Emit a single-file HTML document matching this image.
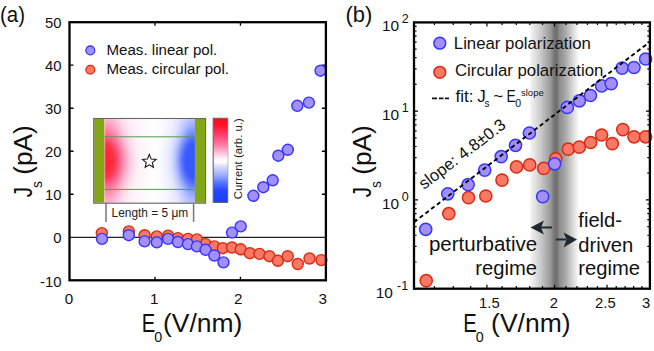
<!DOCTYPE html><html><head><meta charset="utf-8"><style>html,body{margin:0;padding:0;background:#fff;width:654px;height:351px;overflow:hidden}svg{display:block}</style></head><body>
<svg width="654" height="351" viewBox="0 0 654 351" style="font-family:'Liberation Sans',sans-serif">
<defs>
<clipPath id="clipA"><rect x="69.5" y="22.2" width="256.4" height="258.1"/></clipPath>
<clipPath id="clipB"><rect x="414.0" y="22.4" width="235.9" height="266.3"/></clipPath>
<clipPath id="clipHM"><rect x="104.2" y="118.5" width="91.2" height="84.7"/></clipPath>
<filter id="hblur" x="-5%" y="-5%" width="110%" height="110%"><feGaussianBlur stdDeviation="1.2"/></filter>
<filter id="blur" x="-50%" y="-50%" width="200%" height="200%"><feGaussianBlur stdDeviation="7"/></filter>
<filter id="blur2" x="-50%" y="-50%" width="200%" height="200%"><feGaussianBlur stdDeviation="12"/></filter>
<linearGradient id="cbar" x1="0" y1="0" x2="0" y2="1"><stop offset="0" stop-color="#ff0a20"/><stop offset="0.08" stop-color="#ff1028"/><stop offset="0.2" stop-color="#ff4070"/><stop offset="0.32" stop-color="#ff80a8"/><stop offset="0.42" stop-color="#ffc8e0"/><stop offset="0.48" stop-color="#fff4f8"/><stop offset="0.52" stop-color="#ffffff"/><stop offset="0.56" stop-color="#e0e0ff"/><stop offset="0.67" stop-color="#a0b0ff"/><stop offset="0.75" stop-color="#6080ff"/><stop offset="0.85" stop-color="#2848ff"/><stop offset="1" stop-color="#1a3cff"/></linearGradient>
<linearGradient id="band" x1="0" y1="0" x2="1" y2="0"><stop offset="0.0000" stop-color="#ffffff"/><stop offset="0.0288" stop-color="#fefefe"/><stop offset="0.0577" stop-color="#f2f2f2"/><stop offset="0.1538" stop-color="#dedede"/><stop offset="0.2500" stop-color="#c8c8c8"/><stop offset="0.3462" stop-color="#b0b0b0"/><stop offset="0.4423" stop-color="#969696"/><stop offset="0.4904" stop-color="#7c7c7c"/><stop offset="0.5346" stop-color="#6e6e6e"/><stop offset="0.5731" stop-color="#787878"/><stop offset="0.6077" stop-color="#8e8e8e"/><stop offset="0.6731" stop-color="#9c9c9c"/><stop offset="0.7500" stop-color="#b2b2b2"/><stop offset="0.8308" stop-color="#cecece"/><stop offset="0.9308" stop-color="#eeeeee"/><stop offset="0.9731" stop-color="#fcfcfc"/><stop offset="1.0000" stop-color="#ffffff"/></linearGradient>
</defs>
<line x1="69.5" y1="237.28" x2="325.9" y2="237.28" stroke="#222" stroke-width="1.3"/>
<path d="M69.5 194.27h4M325.9 194.27h-4M69.5 151.25h4M325.9 151.25h-4M69.5 108.23h4M325.9 108.23h-4M69.5 65.22h4M325.9 65.22h-4M154.97 280.3v-3.5M154.97 22.2v3.5M240.43 280.3v-3.5M240.43 22.2v3.5" stroke="#000" stroke-width="1.3" fill="none"/>
<text x="61.5" y="28.40" font-size="14.8" text-anchor="end" fill="#111">50</text>
<text x="61.5" y="71.42" font-size="14.8" text-anchor="end" fill="#111">40</text>
<text x="61.5" y="114.43" font-size="14.8" text-anchor="end" fill="#111">30</text>
<text x="61.5" y="157.45" font-size="14.8" text-anchor="end" fill="#111">20</text>
<text x="61.5" y="200.47" font-size="14.8" text-anchor="end" fill="#111">10</text>
<text x="61.5" y="243.48" font-size="14.8" text-anchor="end" fill="#111">0</text>
<text x="61.5" y="286.50" font-size="14.8" text-anchor="end" fill="#111">-10</text>
<text x="69.10" y="303.8" font-size="15.2" text-anchor="middle" fill="#111">0</text>
<text x="154.20" y="303.8" font-size="15.2" text-anchor="middle" fill="#111">1</text>
<text x="238.30" y="303.8" font-size="15.2" text-anchor="middle" fill="#111">2</text>
<text x="322.80" y="303.8" font-size="15.2" text-anchor="middle" fill="#111">3</text>
<text transform="translate(0 22.2) scale(0.95 1)" font-size="21.5" fill="#111">(a)</text>
<text transform="translate(141.7 332.3) scale(0.78 1)" font-size="26" fill="#111">E</text>
<text x="154.3" y="341.7" font-size="14.3" fill="#111">0</text>
<text x="162.9" y="332.3" font-size="26.5" fill="#111">(V/nm)</text>
<g transform="translate(32.2 197.0) rotate(-90)"><text transform="translate(-0.3 0) scale(0.8 1)" font-size="25.5" fill="#111">J</text><text x="9.0" y="9.8" font-size="14" fill="#111">s</text><text x="22.2" y="0" font-size="26.2" fill="#111">(pA)</text></g>
<circle cx="90.3" cy="50.4" r="4.4" fill="#a48ef8" stroke="#3438ff" stroke-width="1.3"/>
<circle cx="90.3" cy="69.7" r="4.4" fill="#fa7866" stroke="#dc2a12" stroke-width="1.3"/>
<text x="106.5" y="54.6" font-size="15.1" fill="#111">Meas. linear pol.</text>
<text x="106.5" y="73.9" font-size="15.1" fill="#111">Meas. circular pol.</text>
<rect x="93.7" y="118.5" width="111.9" height="84.7" fill="#fff"/>
<g clip-path="url(#clipHM)" filter="url(#hblur)"><rect x="104.2" y="118.5" width="2.1" height="2.1" fill="#ff9ebf"/><rect x="106.2" y="118.5" width="2.1" height="2.1" fill="#ff9ec0"/><rect x="108.2" y="118.5" width="2.1" height="2.1" fill="#ffa2c2"/><rect x="110.2" y="118.5" width="2.1" height="2.1" fill="#ffa8c7"/><rect x="112.2" y="118.5" width="2.1" height="2.1" fill="#ffb0cd"/><rect x="114.2" y="118.5" width="2.1" height="2.1" fill="#ffb9d4"/><rect x="116.2" y="118.5" width="2.1" height="2.1" fill="#ffc2dc"/><rect x="118.2" y="118.5" width="2.1" height="2.1" fill="#ffcbe2"/><rect x="120.2" y="118.5" width="2.1" height="2.1" fill="#ffd3e6"/><rect x="122.2" y="118.5" width="2.1" height="2.1" fill="#ffdaea"/><rect x="124.2" y="118.5" width="2.1" height="2.1" fill="#ffe1ee"/><rect x="126.2" y="118.5" width="2.1" height="2.1" fill="#ffe7f1"/><rect x="128.2" y="118.5" width="2.1" height="2.1" fill="#ffecf4"/><rect x="130.2" y="118.5" width="2.1" height="2.1" fill="#fff0f6"/><rect x="132.2" y="118.5" width="2.1" height="2.1" fill="#fff2f7"/><rect x="134.2" y="118.5" width="2.1" height="2.1" fill="#fff3f8"/><rect x="136.2" y="118.5" width="2.1" height="2.1" fill="#fff4f9"/><rect x="138.2" y="118.5" width="2.1" height="2.1" fill="#fff6f9"/><rect x="140.2" y="118.5" width="2.1" height="2.1" fill="#fff7fa"/><rect x="142.2" y="118.5" width="2.1" height="2.1" fill="#fff8fb"/><rect x="144.2" y="118.5" width="2.1" height="2.1" fill="#fff9fc"/><rect x="146.2" y="118.5" width="2.1" height="2.1" fill="#fffafc"/><rect x="148.2" y="118.5" width="2.1" height="2.1" fill="#fffcfd"/><rect x="150.2" y="118.5" width="2.1" height="2.1" fill="#fffdfe"/><rect x="152.2" y="118.5" width="2.1" height="2.1" fill="#fffefe"/><rect x="156.2" y="118.5" width="2.1" height="2.1" fill="#fdfdff"/><rect x="158.2" y="118.5" width="2.1" height="2.1" fill="#fcfcff"/><rect x="160.2" y="118.5" width="2.1" height="2.1" fill="#fafaff"/><rect x="162.2" y="118.5" width="2.1" height="2.1" fill="#f8f8ff"/><rect x="164.2" y="118.5" width="2.1" height="2.1" fill="#f6f6ff"/><rect x="166.2" y="118.5" width="2.1" height="2.1" fill="#f4f4ff"/><rect x="168.2" y="118.5" width="2.1" height="2.1" fill="#f1f1ff"/><rect x="170.2" y="118.5" width="2.1" height="2.1" fill="#eeeeff"/><rect x="172.2" y="118.5" width="2.1" height="2.1" fill="#ebebff"/><rect x="174.2" y="118.5" width="2.1" height="2.1" fill="#e7e7ff"/><rect x="176.2" y="118.5" width="2.1" height="2.1" fill="#e3e3ff"/><rect x="178.2" y="118.5" width="2.1" height="2.1" fill="#dbdcff"/><rect x="180.2" y="118.5" width="2.1" height="2.1" fill="#d1d5ff"/><rect x="182.2" y="118.5" width="2.1" height="2.1" fill="#c6cdff"/><rect x="184.2" y="118.5" width="2.1" height="2.1" fill="#bcc5ff"/><rect x="186.2" y="118.5" width="2.1" height="2.1" fill="#b2beff"/><rect x="188.2" y="118.5" width="2.1" height="2.1" fill="#abb8ff"/><rect x="190.2" y="118.5" width="2.1" height="2.1" fill="#a5b4ff"/><rect x="192.2" y="118.5" width="2.1" height="2.1" fill="#a3b2ff"/><rect x="194.2" y="118.5" width="2.1" height="2.1" fill="#a4b3ff"/><rect x="104.2" y="120.5" width="2.1" height="2.1" fill="#ff97ba"/><rect x="106.2" y="120.5" width="2.1" height="2.1" fill="#ff98ba"/><rect x="108.2" y="120.5" width="2.1" height="2.1" fill="#ff9cbd"/><rect x="110.2" y="120.5" width="2.1" height="2.1" fill="#ffa2c2"/><rect x="112.2" y="120.5" width="2.1" height="2.1" fill="#ffaac9"/><rect x="114.2" y="120.5" width="2.1" height="2.1" fill="#ffb4d0"/><rect x="116.2" y="120.5" width="2.1" height="2.1" fill="#ffbed8"/><rect x="118.2" y="120.5" width="2.1" height="2.1" fill="#ffc8e0"/><rect x="120.2" y="120.5" width="2.1" height="2.1" fill="#ffd1e5"/><rect x="122.2" y="120.5" width="2.1" height="2.1" fill="#ffd8e9"/><rect x="124.2" y="120.5" width="2.1" height="2.1" fill="#ffdfed"/><rect x="126.2" y="120.5" width="2.1" height="2.1" fill="#ffe5f0"/><rect x="128.2" y="120.5" width="2.1" height="2.1" fill="#ffebf3"/><rect x="130.2" y="120.5" width="2.1" height="2.1" fill="#ffeff6"/><rect x="132.2" y="120.5" width="2.1" height="2.1" fill="#fff1f7"/><rect x="134.2" y="120.5" width="2.1" height="2.1" fill="#fff3f8"/><rect x="136.2" y="120.5" width="2.1" height="2.1" fill="#fff4f9"/><rect x="138.2" y="120.5" width="2.1" height="2.1" fill="#fff6f9"/><rect x="140.2" y="120.5" width="2.1" height="2.1" fill="#fff7fa"/><rect x="142.2" y="120.5" width="2.1" height="2.1" fill="#fff8fb"/><rect x="144.2" y="120.5" width="2.1" height="2.1" fill="#fff9fb"/><rect x="146.2" y="120.5" width="2.1" height="2.1" fill="#fffafc"/><rect x="148.2" y="120.5" width="2.1" height="2.1" fill="#fffbfd"/><rect x="150.2" y="120.5" width="2.1" height="2.1" fill="#fffdfe"/><rect x="152.2" y="120.5" width="2.1" height="2.1" fill="#fffefe"/><rect x="156.2" y="120.5" width="2.1" height="2.1" fill="#fdfdff"/><rect x="158.2" y="120.5" width="2.1" height="2.1" fill="#fcfcff"/><rect x="160.2" y="120.5" width="2.1" height="2.1" fill="#fafaff"/><rect x="162.2" y="120.5" width="2.1" height="2.1" fill="#f8f8ff"/><rect x="164.2" y="120.5" width="2.1" height="2.1" fill="#f6f6ff"/><rect x="166.2" y="120.5" width="2.1" height="2.1" fill="#f4f4ff"/><rect x="168.2" y="120.5" width="2.1" height="2.1" fill="#f1f1ff"/><rect x="170.2" y="120.5" width="2.1" height="2.1" fill="#eeeeff"/><rect x="172.2" y="120.5" width="2.1" height="2.1" fill="#eaeaff"/><rect x="174.2" y="120.5" width="2.1" height="2.1" fill="#e6e6ff"/><rect x="176.2" y="120.5" width="2.1" height="2.1" fill="#e2e2ff"/><rect x="178.2" y="120.5" width="2.1" height="2.1" fill="#d9dbff"/><rect x="180.2" y="120.5" width="2.1" height="2.1" fill="#ced3ff"/><rect x="182.2" y="120.5" width="2.1" height="2.1" fill="#c3caff"/><rect x="184.2" y="120.5" width="2.1" height="2.1" fill="#b8c2ff"/><rect x="186.2" y="120.5" width="2.1" height="2.1" fill="#aebaff"/><rect x="188.2" y="120.5" width="2.1" height="2.1" fill="#a6b4ff"/><rect x="190.2" y="120.5" width="2.1" height="2.1" fill="#a0b0ff"/><rect x="192.2" y="120.5" width="2.1" height="2.1" fill="#9daeff"/><rect x="194.2" y="120.5" width="2.1" height="2.1" fill="#9fafff"/><rect x="104.2" y="122.5" width="2.1" height="2.1" fill="#ff8eb3"/><rect x="106.2" y="122.5" width="2.1" height="2.1" fill="#ff8fb4"/><rect x="108.2" y="122.5" width="2.1" height="2.1" fill="#ff94b7"/><rect x="110.2" y="122.5" width="2.1" height="2.1" fill="#ff9bbd"/><rect x="112.2" y="122.5" width="2.1" height="2.1" fill="#ffa4c4"/><rect x="114.2" y="122.5" width="2.1" height="2.1" fill="#ffaecc"/><rect x="116.2" y="122.5" width="2.1" height="2.1" fill="#ffb9d4"/><rect x="118.2" y="122.5" width="2.1" height="2.1" fill="#ffc4dd"/><rect x="120.2" y="122.5" width="2.1" height="2.1" fill="#ffcee3"/><rect x="122.2" y="122.5" width="2.1" height="2.1" fill="#ffd6e8"/><rect x="124.2" y="122.5" width="2.1" height="2.1" fill="#ffddec"/><rect x="126.2" y="122.5" width="2.1" height="2.1" fill="#ffe4ef"/><rect x="128.2" y="122.5" width="2.1" height="2.1" fill="#ffe9f2"/><rect x="130.2" y="122.5" width="2.1" height="2.1" fill="#ffeef5"/><rect x="132.2" y="122.5" width="2.1" height="2.1" fill="#fff1f7"/><rect x="134.2" y="122.5" width="2.1" height="2.1" fill="#fff3f8"/><rect x="136.2" y="122.5" width="2.1" height="2.1" fill="#fff4f8"/><rect x="138.2" y="122.5" width="2.1" height="2.1" fill="#fff5f9"/><rect x="140.2" y="122.5" width="2.1" height="2.1" fill="#fff7fa"/><rect x="142.2" y="122.5" width="2.1" height="2.1" fill="#fff8fb"/><rect x="144.2" y="122.5" width="2.1" height="2.1" fill="#fff9fb"/><rect x="146.2" y="122.5" width="2.1" height="2.1" fill="#fffafc"/><rect x="148.2" y="122.5" width="2.1" height="2.1" fill="#fffbfd"/><rect x="150.2" y="122.5" width="2.1" height="2.1" fill="#fffdfe"/><rect x="152.2" y="122.5" width="2.1" height="2.1" fill="#fffefe"/><rect x="156.2" y="122.5" width="2.1" height="2.1" fill="#fdfdff"/><rect x="158.2" y="122.5" width="2.1" height="2.1" fill="#fcfcff"/><rect x="160.2" y="122.5" width="2.1" height="2.1" fill="#fafaff"/><rect x="162.2" y="122.5" width="2.1" height="2.1" fill="#f8f8ff"/><rect x="164.2" y="122.5" width="2.1" height="2.1" fill="#f6f6ff"/><rect x="166.2" y="122.5" width="2.1" height="2.1" fill="#f3f3ff"/><rect x="168.2" y="122.5" width="2.1" height="2.1" fill="#f1f1ff"/><rect x="170.2" y="122.5" width="2.1" height="2.1" fill="#ededff"/><rect x="172.2" y="122.5" width="2.1" height="2.1" fill="#eaeaff"/><rect x="174.2" y="122.5" width="2.1" height="2.1" fill="#e5e5ff"/><rect x="176.2" y="122.5" width="2.1" height="2.1" fill="#e0e0ff"/><rect x="178.2" y="122.5" width="2.1" height="2.1" fill="#d6d9ff"/><rect x="180.2" y="122.5" width="2.1" height="2.1" fill="#cbd0ff"/><rect x="182.2" y="122.5" width="2.1" height="2.1" fill="#bfc7ff"/><rect x="184.2" y="122.5" width="2.1" height="2.1" fill="#b3beff"/><rect x="186.2" y="122.5" width="2.1" height="2.1" fill="#a8b6ff"/><rect x="188.2" y="122.5" width="2.1" height="2.1" fill="#9fafff"/><rect x="190.2" y="122.5" width="2.1" height="2.1" fill="#98aaff"/><rect x="192.2" y="122.5" width="2.1" height="2.1" fill="#95a8ff"/><rect x="194.2" y="122.5" width="2.1" height="2.1" fill="#96a9ff"/><rect x="104.2" y="124.5" width="2.1" height="2.1" fill="#ff84ab"/><rect x="106.2" y="124.5" width="2.1" height="2.1" fill="#ff86ac"/><rect x="108.2" y="124.5" width="2.1" height="2.1" fill="#ff8ab0"/><rect x="110.2" y="124.5" width="2.1" height="2.1" fill="#ff92b6"/><rect x="112.2" y="124.5" width="2.1" height="2.1" fill="#ff9cbe"/><rect x="114.2" y="124.5" width="2.1" height="2.1" fill="#ffa7c6"/><rect x="116.2" y="124.5" width="2.1" height="2.1" fill="#ffb3d0"/><rect x="118.2" y="124.5" width="2.1" height="2.1" fill="#ffbfd9"/><rect x="120.2" y="124.5" width="2.1" height="2.1" fill="#ffcae1"/><rect x="122.2" y="124.5" width="2.1" height="2.1" fill="#ffd3e6"/><rect x="124.2" y="124.5" width="2.1" height="2.1" fill="#ffdbea"/><rect x="126.2" y="124.5" width="2.1" height="2.1" fill="#ffe2ee"/><rect x="128.2" y="124.5" width="2.1" height="2.1" fill="#ffe8f2"/><rect x="130.2" y="124.5" width="2.1" height="2.1" fill="#ffedf4"/><rect x="132.2" y="124.5" width="2.1" height="2.1" fill="#fff1f6"/><rect x="134.2" y="124.5" width="2.1" height="2.1" fill="#fff2f7"/><rect x="136.2" y="124.5" width="2.1" height="2.1" fill="#fff4f8"/><rect x="138.2" y="124.5" width="2.1" height="2.1" fill="#fff5f9"/><rect x="140.2" y="124.5" width="2.1" height="2.1" fill="#fff6fa"/><rect x="142.2" y="124.5" width="2.1" height="2.1" fill="#fff8fb"/><rect x="144.2" y="124.5" width="2.1" height="2.1" fill="#fff9fb"/><rect x="146.2" y="124.5" width="2.1" height="2.1" fill="#fffafc"/><rect x="148.2" y="124.5" width="2.1" height="2.1" fill="#fffbfd"/><rect x="150.2" y="124.5" width="2.1" height="2.1" fill="#fffdfe"/><rect x="152.2" y="124.5" width="2.1" height="2.1" fill="#fffefe"/><rect x="156.2" y="124.5" width="2.1" height="2.1" fill="#fdfdff"/><rect x="158.2" y="124.5" width="2.1" height="2.1" fill="#fcfcff"/><rect x="160.2" y="124.5" width="2.1" height="2.1" fill="#fafaff"/><rect x="162.2" y="124.5" width="2.1" height="2.1" fill="#f8f8ff"/><rect x="164.2" y="124.5" width="2.1" height="2.1" fill="#f5f5ff"/><rect x="166.2" y="124.5" width="2.1" height="2.1" fill="#f3f3ff"/><rect x="168.2" y="124.5" width="2.1" height="2.1" fill="#f0f0ff"/><rect x="170.2" y="124.5" width="2.1" height="2.1" fill="#ededff"/><rect x="172.2" y="124.5" width="2.1" height="2.1" fill="#e9e9ff"/><rect x="174.2" y="124.5" width="2.1" height="2.1" fill="#e4e4ff"/><rect x="176.2" y="124.5" width="2.1" height="2.1" fill="#dedfff"/><rect x="178.2" y="124.5" width="2.1" height="2.1" fill="#d3d6ff"/><rect x="180.2" y="124.5" width="2.1" height="2.1" fill="#c7cdff"/><rect x="182.2" y="124.5" width="2.1" height="2.1" fill="#bac3ff"/><rect x="184.2" y="124.5" width="2.1" height="2.1" fill="#adbaff"/><rect x="186.2" y="124.5" width="2.1" height="2.1" fill="#a2b1ff"/><rect x="188.2" y="124.5" width="2.1" height="2.1" fill="#96a9ff"/><rect x="190.2" y="124.5" width="2.1" height="2.1" fill="#8ea3ff"/><rect x="192.2" y="124.5" width="2.1" height="2.1" fill="#8ba0ff"/><rect x="194.2" y="124.5" width="2.1" height="2.1" fill="#8da1ff"/><rect x="104.2" y="126.5" width="2.1" height="2.1" fill="#ff7ba3"/><rect x="106.2" y="126.5" width="2.1" height="2.1" fill="#ff7ca4"/><rect x="108.2" y="126.5" width="2.1" height="2.1" fill="#ff80a8"/><rect x="110.2" y="126.5" width="2.1" height="2.1" fill="#ff88ae"/><rect x="112.2" y="126.5" width="2.1" height="2.1" fill="#ff93b6"/><rect x="114.2" y="126.5" width="2.1" height="2.1" fill="#ff9fc0"/><rect x="116.2" y="126.5" width="2.1" height="2.1" fill="#ffacca"/><rect x="118.2" y="126.5" width="2.1" height="2.1" fill="#ffb9d4"/><rect x="120.2" y="126.5" width="2.1" height="2.1" fill="#ffc5de"/><rect x="122.2" y="126.5" width="2.1" height="2.1" fill="#ffcfe4"/><rect x="124.2" y="126.5" width="2.1" height="2.1" fill="#ffd8e9"/><rect x="126.2" y="126.5" width="2.1" height="2.1" fill="#ffe0ed"/><rect x="128.2" y="126.5" width="2.1" height="2.1" fill="#ffe6f1"/><rect x="130.2" y="126.5" width="2.1" height="2.1" fill="#ffecf4"/><rect x="132.2" y="126.5" width="2.1" height="2.1" fill="#fff0f6"/><rect x="134.2" y="126.5" width="2.1" height="2.1" fill="#fff2f7"/><rect x="136.2" y="126.5" width="2.1" height="2.1" fill="#fff3f8"/><rect x="138.2" y="126.5" width="2.1" height="2.1" fill="#fff5f9"/><rect x="140.2" y="126.5" width="2.1" height="2.1" fill="#fff6fa"/><rect x="142.2" y="126.5" width="2.1" height="2.1" fill="#fff8fb"/><rect x="144.2" y="126.5" width="2.1" height="2.1" fill="#fff9fb"/><rect x="146.2" y="126.5" width="2.1" height="2.1" fill="#fffafc"/><rect x="148.2" y="126.5" width="2.1" height="2.1" fill="#fffbfd"/><rect x="150.2" y="126.5" width="2.1" height="2.1" fill="#fffdfe"/><rect x="152.2" y="126.5" width="2.1" height="2.1" fill="#fffefe"/><rect x="156.2" y="126.5" width="2.1" height="2.1" fill="#fdfdff"/><rect x="158.2" y="126.5" width="2.1" height="2.1" fill="#fbfbff"/><rect x="160.2" y="126.5" width="2.1" height="2.1" fill="#fafaff"/><rect x="162.2" y="126.5" width="2.1" height="2.1" fill="#f7f7ff"/><rect x="164.2" y="126.5" width="2.1" height="2.1" fill="#f5f5ff"/><rect x="166.2" y="126.5" width="2.1" height="2.1" fill="#f3f3ff"/><rect x="168.2" y="126.5" width="2.1" height="2.1" fill="#f0f0ff"/><rect x="170.2" y="126.5" width="2.1" height="2.1" fill="#ececff"/><rect x="172.2" y="126.5" width="2.1" height="2.1" fill="#e8e8ff"/><rect x="174.2" y="126.5" width="2.1" height="2.1" fill="#e3e3ff"/><rect x="176.2" y="126.5" width="2.1" height="2.1" fill="#dbdcff"/><rect x="178.2" y="126.5" width="2.1" height="2.1" fill="#cfd3ff"/><rect x="180.2" y="126.5" width="2.1" height="2.1" fill="#c2c9ff"/><rect x="182.2" y="126.5" width="2.1" height="2.1" fill="#b4bfff"/><rect x="184.2" y="126.5" width="2.1" height="2.1" fill="#a6b5ff"/><rect x="186.2" y="126.5" width="2.1" height="2.1" fill="#99aaff"/><rect x="188.2" y="126.5" width="2.1" height="2.1" fill="#8ca1ff"/><rect x="190.2" y="126.5" width="2.1" height="2.1" fill="#839aff"/><rect x="192.2" y="126.5" width="2.1" height="2.1" fill="#7f98ff"/><rect x="194.2" y="126.5" width="2.1" height="2.1" fill="#8199ff"/><rect x="104.2" y="128.5" width="2.1" height="2.1" fill="#ff719b"/><rect x="106.2" y="128.5" width="2.1" height="2.1" fill="#ff729c"/><rect x="108.2" y="128.5" width="2.1" height="2.1" fill="#ff77a0"/><rect x="110.2" y="128.5" width="2.1" height="2.1" fill="#ff7da5"/><rect x="112.2" y="128.5" width="2.1" height="2.1" fill="#ff88ae"/><rect x="114.2" y="128.5" width="2.1" height="2.1" fill="#ff95b9"/><rect x="116.2" y="128.5" width="2.1" height="2.1" fill="#ffa4c4"/><rect x="118.2" y="128.5" width="2.1" height="2.1" fill="#ffb2cf"/><rect x="120.2" y="128.5" width="2.1" height="2.1" fill="#ffc0d9"/><rect x="122.2" y="128.5" width="2.1" height="2.1" fill="#ffcbe2"/><rect x="124.2" y="128.5" width="2.1" height="2.1" fill="#ffd5e7"/><rect x="126.2" y="128.5" width="2.1" height="2.1" fill="#ffddec"/><rect x="128.2" y="128.5" width="2.1" height="2.1" fill="#ffe4ef"/><rect x="130.2" y="128.5" width="2.1" height="2.1" fill="#ffeaf3"/><rect x="132.2" y="128.5" width="2.1" height="2.1" fill="#ffeff6"/><rect x="134.2" y="128.5" width="2.1" height="2.1" fill="#fff1f7"/><rect x="136.2" y="128.5" width="2.1" height="2.1" fill="#fff3f8"/><rect x="138.2" y="128.5" width="2.1" height="2.1" fill="#fff5f9"/><rect x="140.2" y="128.5" width="2.1" height="2.1" fill="#fff6fa"/><rect x="142.2" y="128.5" width="2.1" height="2.1" fill="#fff7fa"/><rect x="144.2" y="128.5" width="2.1" height="2.1" fill="#fff9fb"/><rect x="146.2" y="128.5" width="2.1" height="2.1" fill="#fffafc"/><rect x="148.2" y="128.5" width="2.1" height="2.1" fill="#fffbfd"/><rect x="150.2" y="128.5" width="2.1" height="2.1" fill="#fffcfd"/><rect x="152.2" y="128.5" width="2.1" height="2.1" fill="#fffefe"/><rect x="156.2" y="128.5" width="2.1" height="2.1" fill="#fdfdff"/><rect x="158.2" y="128.5" width="2.1" height="2.1" fill="#fbfbff"/><rect x="160.2" y="128.5" width="2.1" height="2.1" fill="#f9f9ff"/><rect x="162.2" y="128.5" width="2.1" height="2.1" fill="#f7f7ff"/><rect x="164.2" y="128.5" width="2.1" height="2.1" fill="#f5f5ff"/><rect x="166.2" y="128.5" width="2.1" height="2.1" fill="#f2f2ff"/><rect x="168.2" y="128.5" width="2.1" height="2.1" fill="#efefff"/><rect x="170.2" y="128.5" width="2.1" height="2.1" fill="#ebebff"/><rect x="172.2" y="128.5" width="2.1" height="2.1" fill="#e7e7ff"/><rect x="174.2" y="128.5" width="2.1" height="2.1" fill="#e2e2ff"/><rect x="176.2" y="128.5" width="2.1" height="2.1" fill="#d8daff"/><rect x="178.2" y="128.5" width="2.1" height="2.1" fill="#cbd0ff"/><rect x="180.2" y="128.5" width="2.1" height="2.1" fill="#bcc5ff"/><rect x="182.2" y="128.5" width="2.1" height="2.1" fill="#adbaff"/><rect x="184.2" y="128.5" width="2.1" height="2.1" fill="#9eafff"/><rect x="186.2" y="128.5" width="2.1" height="2.1" fill="#8ea2ff"/><rect x="188.2" y="128.5" width="2.1" height="2.1" fill="#8098ff"/><rect x="190.2" y="128.5" width="2.1" height="2.1" fill="#7691ff"/><rect x="192.2" y="128.5" width="2.1" height="2.1" fill="#728eff"/><rect x="194.2" y="128.5" width="2.1" height="2.1" fill="#748fff"/><rect x="104.2" y="130.5" width="2.1" height="2.1" fill="#ff6691"/><rect x="106.2" y="130.5" width="2.1" height="2.1" fill="#ff6893"/><rect x="108.2" y="130.5" width="2.1" height="2.1" fill="#ff6c97"/><rect x="110.2" y="130.5" width="2.1" height="2.1" fill="#ff749d"/><rect x="112.2" y="130.5" width="2.1" height="2.1" fill="#ff7da5"/><rect x="114.2" y="130.5" width="2.1" height="2.1" fill="#ff8bb0"/><rect x="116.2" y="130.5" width="2.1" height="2.1" fill="#ff9abc"/><rect x="118.2" y="130.5" width="2.1" height="2.1" fill="#ffaac9"/><rect x="120.2" y="130.5" width="2.1" height="2.1" fill="#ffb9d4"/><rect x="122.2" y="130.5" width="2.1" height="2.1" fill="#ffc7df"/><rect x="124.2" y="130.5" width="2.1" height="2.1" fill="#ffd1e5"/><rect x="126.2" y="130.5" width="2.1" height="2.1" fill="#ffdaea"/><rect x="128.2" y="130.5" width="2.1" height="2.1" fill="#ffe2ee"/><rect x="130.2" y="130.5" width="2.1" height="2.1" fill="#ffe8f2"/><rect x="132.2" y="130.5" width="2.1" height="2.1" fill="#ffeef5"/><rect x="134.2" y="130.5" width="2.1" height="2.1" fill="#fff1f7"/><rect x="136.2" y="130.5" width="2.1" height="2.1" fill="#fff3f8"/><rect x="138.2" y="130.5" width="2.1" height="2.1" fill="#fff4f9"/><rect x="140.2" y="130.5" width="2.1" height="2.1" fill="#fff6f9"/><rect x="142.2" y="130.5" width="2.1" height="2.1" fill="#fff7fa"/><rect x="144.2" y="130.5" width="2.1" height="2.1" fill="#fff8fb"/><rect x="146.2" y="130.5" width="2.1" height="2.1" fill="#fffafc"/><rect x="148.2" y="130.5" width="2.1" height="2.1" fill="#fffbfd"/><rect x="150.2" y="130.5" width="2.1" height="2.1" fill="#fffcfd"/><rect x="152.2" y="130.5" width="2.1" height="2.1" fill="#fffefe"/><rect x="156.2" y="130.5" width="2.1" height="2.1" fill="#fdfdff"/><rect x="158.2" y="130.5" width="2.1" height="2.1" fill="#fbfbff"/><rect x="160.2" y="130.5" width="2.1" height="2.1" fill="#f9f9ff"/><rect x="162.2" y="130.5" width="2.1" height="2.1" fill="#f7f7ff"/><rect x="164.2" y="130.5" width="2.1" height="2.1" fill="#f5f5ff"/><rect x="166.2" y="130.5" width="2.1" height="2.1" fill="#f2f2ff"/><rect x="168.2" y="130.5" width="2.1" height="2.1" fill="#eeeeff"/><rect x="170.2" y="130.5" width="2.1" height="2.1" fill="#eaeaff"/><rect x="172.2" y="130.5" width="2.1" height="2.1" fill="#e6e6ff"/><rect x="174.2" y="130.5" width="2.1" height="2.1" fill="#e0e0ff"/><rect x="176.2" y="130.5" width="2.1" height="2.1" fill="#d3d7ff"/><rect x="178.2" y="130.5" width="2.1" height="2.1" fill="#c5ccff"/><rect x="180.2" y="130.5" width="2.1" height="2.1" fill="#b6c0ff"/><rect x="182.2" y="130.5" width="2.1" height="2.1" fill="#a6b4ff"/><rect x="184.2" y="130.5" width="2.1" height="2.1" fill="#93a6ff"/><rect x="186.2" y="130.5" width="2.1" height="2.1" fill="#8199ff"/><rect x="188.2" y="130.5" width="2.1" height="2.1" fill="#728eff"/><rect x="190.2" y="130.5" width="2.1" height="2.1" fill="#6886ff"/><rect x="192.2" y="130.5" width="2.1" height="2.1" fill="#6382ff"/><rect x="194.2" y="130.5" width="2.1" height="2.1" fill="#6483ff"/><rect x="104.2" y="132.5" width="2.1" height="2.1" fill="#ff5a86"/><rect x="106.2" y="132.5" width="2.1" height="2.1" fill="#ff5b88"/><rect x="108.2" y="132.5" width="2.1" height="2.1" fill="#ff618d"/><rect x="110.2" y="132.5" width="2.1" height="2.1" fill="#ff6994"/><rect x="112.2" y="132.5" width="2.1" height="2.1" fill="#ff739d"/><rect x="114.2" y="132.5" width="2.1" height="2.1" fill="#ff7fa7"/><rect x="116.2" y="132.5" width="2.1" height="2.1" fill="#ff90b4"/><rect x="118.2" y="132.5" width="2.1" height="2.1" fill="#ffa1c2"/><rect x="120.2" y="132.5" width="2.1" height="2.1" fill="#ffb2cf"/><rect x="122.2" y="132.5" width="2.1" height="2.1" fill="#ffc1da"/><rect x="124.2" y="132.5" width="2.1" height="2.1" fill="#ffcde3"/><rect x="126.2" y="132.5" width="2.1" height="2.1" fill="#ffd7e8"/><rect x="128.2" y="132.5" width="2.1" height="2.1" fill="#ffdfed"/><rect x="130.2" y="132.5" width="2.1" height="2.1" fill="#ffe6f1"/><rect x="132.2" y="132.5" width="2.1" height="2.1" fill="#ffecf4"/><rect x="134.2" y="132.5" width="2.1" height="2.1" fill="#fff0f6"/><rect x="136.2" y="132.5" width="2.1" height="2.1" fill="#fff2f7"/><rect x="138.2" y="132.5" width="2.1" height="2.1" fill="#fff4f8"/><rect x="140.2" y="132.5" width="2.1" height="2.1" fill="#fff5f9"/><rect x="142.2" y="132.5" width="2.1" height="2.1" fill="#fff7fa"/><rect x="144.2" y="132.5" width="2.1" height="2.1" fill="#fff8fb"/><rect x="146.2" y="132.5" width="2.1" height="2.1" fill="#fffafc"/><rect x="148.2" y="132.5" width="2.1" height="2.1" fill="#fffbfd"/><rect x="150.2" y="132.5" width="2.1" height="2.1" fill="#fffcfd"/><rect x="152.2" y="132.5" width="2.1" height="2.1" fill="#fffefe"/><rect x="156.2" y="132.5" width="2.1" height="2.1" fill="#fdfdff"/><rect x="158.2" y="132.5" width="2.1" height="2.1" fill="#fbfbff"/><rect x="160.2" y="132.5" width="2.1" height="2.1" fill="#f9f9ff"/><rect x="162.2" y="132.5" width="2.1" height="2.1" fill="#f7f7ff"/><rect x="164.2" y="132.5" width="2.1" height="2.1" fill="#f4f4ff"/><rect x="166.2" y="132.5" width="2.1" height="2.1" fill="#f1f1ff"/><rect x="168.2" y="132.5" width="2.1" height="2.1" fill="#eeeeff"/><rect x="170.2" y="132.5" width="2.1" height="2.1" fill="#e9e9ff"/><rect x="172.2" y="132.5" width="2.1" height="2.1" fill="#e4e4ff"/><rect x="174.2" y="132.5" width="2.1" height="2.1" fill="#dcddff"/><rect x="176.2" y="132.5" width="2.1" height="2.1" fill="#cfd3ff"/><rect x="178.2" y="132.5" width="2.1" height="2.1" fill="#c0c8ff"/><rect x="180.2" y="132.5" width="2.1" height="2.1" fill="#afbbff"/><rect x="182.2" y="132.5" width="2.1" height="2.1" fill="#9cadff"/><rect x="184.2" y="132.5" width="2.1" height="2.1" fill="#879dff"/><rect x="186.2" y="132.5" width="2.1" height="2.1" fill="#738eff"/><rect x="188.2" y="132.5" width="2.1" height="2.1" fill="#6382ff"/><rect x="190.2" y="132.5" width="2.1" height="2.1" fill="#5a7aff"/><rect x="192.2" y="132.5" width="2.1" height="2.1" fill="#5777ff"/><rect x="194.2" y="132.5" width="2.1" height="2.1" fill="#5878ff"/><rect x="104.2" y="134.5" width="2.1" height="2.1" fill="#ff4c7a"/><rect x="106.2" y="134.5" width="2.1" height="2.1" fill="#ff4e7c"/><rect x="108.2" y="134.5" width="2.1" height="2.1" fill="#ff5481"/><rect x="110.2" y="134.5" width="2.1" height="2.1" fill="#ff5d89"/><rect x="112.2" y="134.5" width="2.1" height="2.1" fill="#ff6893"/><rect x="114.2" y="134.5" width="2.1" height="2.1" fill="#ff759f"/><rect x="116.2" y="134.5" width="2.1" height="2.1" fill="#ff84ab"/><rect x="118.2" y="134.5" width="2.1" height="2.1" fill="#ff97ba"/><rect x="120.2" y="134.5" width="2.1" height="2.1" fill="#ffa9c8"/><rect x="122.2" y="134.5" width="2.1" height="2.1" fill="#ffbad5"/><rect x="124.2" y="134.5" width="2.1" height="2.1" fill="#ffc8e0"/><rect x="126.2" y="134.5" width="2.1" height="2.1" fill="#ffd3e6"/><rect x="128.2" y="134.5" width="2.1" height="2.1" fill="#ffdceb"/><rect x="130.2" y="134.5" width="2.1" height="2.1" fill="#ffe4ef"/><rect x="132.2" y="134.5" width="2.1" height="2.1" fill="#ffeaf3"/><rect x="134.2" y="134.5" width="2.1" height="2.1" fill="#fff0f6"/><rect x="136.2" y="134.5" width="2.1" height="2.1" fill="#fff2f7"/><rect x="138.2" y="134.5" width="2.1" height="2.1" fill="#fff4f8"/><rect x="140.2" y="134.5" width="2.1" height="2.1" fill="#fff5f9"/><rect x="142.2" y="134.5" width="2.1" height="2.1" fill="#fff7fa"/><rect x="144.2" y="134.5" width="2.1" height="2.1" fill="#fff8fb"/><rect x="146.2" y="134.5" width="2.1" height="2.1" fill="#fff9fc"/><rect x="148.2" y="134.5" width="2.1" height="2.1" fill="#fffbfd"/><rect x="150.2" y="134.5" width="2.1" height="2.1" fill="#fffcfd"/><rect x="152.2" y="134.5" width="2.1" height="2.1" fill="#fffefe"/><rect x="156.2" y="134.5" width="2.1" height="2.1" fill="#fdfdff"/><rect x="158.2" y="134.5" width="2.1" height="2.1" fill="#fbfbff"/><rect x="160.2" y="134.5" width="2.1" height="2.1" fill="#f9f9ff"/><rect x="162.2" y="134.5" width="2.1" height="2.1" fill="#f6f6ff"/><rect x="164.2" y="134.5" width="2.1" height="2.1" fill="#f4f4ff"/><rect x="166.2" y="134.5" width="2.1" height="2.1" fill="#f0f0ff"/><rect x="168.2" y="134.5" width="2.1" height="2.1" fill="#ededff"/><rect x="170.2" y="134.5" width="2.1" height="2.1" fill="#e8e8ff"/><rect x="172.2" y="134.5" width="2.1" height="2.1" fill="#e3e3ff"/><rect x="174.2" y="134.5" width="2.1" height="2.1" fill="#d9daff"/><rect x="176.2" y="134.5" width="2.1" height="2.1" fill="#cacfff"/><rect x="178.2" y="134.5" width="2.1" height="2.1" fill="#b9c3ff"/><rect x="180.2" y="134.5" width="2.1" height="2.1" fill="#a7b5ff"/><rect x="182.2" y="134.5" width="2.1" height="2.1" fill="#91a5ff"/><rect x="184.2" y="134.5" width="2.1" height="2.1" fill="#7993ff"/><rect x="186.2" y="134.5" width="2.1" height="2.1" fill="#6483ff"/><rect x="188.2" y="134.5" width="2.1" height="2.1" fill="#5777ff"/><rect x="190.2" y="134.5" width="2.1" height="2.1" fill="#4f6fff"/><rect x="192.2" y="134.5" width="2.1" height="2.1" fill="#4b6bff"/><rect x="194.2" y="134.5" width="2.1" height="2.1" fill="#4c6cff"/><rect x="104.2" y="136.5" width="2.1" height="2.1" fill="#ff3e6d"/><rect x="106.2" y="136.5" width="2.1" height="2.1" fill="#ff4070"/><rect x="108.2" y="136.5" width="2.1" height="2.1" fill="#ff4675"/><rect x="110.2" y="136.5" width="2.1" height="2.1" fill="#ff507e"/><rect x="112.2" y="136.5" width="2.1" height="2.1" fill="#ff5d89"/><rect x="114.2" y="136.5" width="2.1" height="2.1" fill="#ff6b96"/><rect x="116.2" y="136.5" width="2.1" height="2.1" fill="#ff7aa3"/><rect x="118.2" y="136.5" width="2.1" height="2.1" fill="#ff8db2"/><rect x="120.2" y="136.5" width="2.1" height="2.1" fill="#ffa1c1"/><rect x="122.2" y="136.5" width="2.1" height="2.1" fill="#ffb3cf"/><rect x="124.2" y="136.5" width="2.1" height="2.1" fill="#ffc3dc"/><rect x="126.2" y="136.5" width="2.1" height="2.1" fill="#ffcfe4"/><rect x="128.2" y="136.5" width="2.1" height="2.1" fill="#ffd9e9"/><rect x="130.2" y="136.5" width="2.1" height="2.1" fill="#ffe1ee"/><rect x="132.2" y="136.5" width="2.1" height="2.1" fill="#ffe8f2"/><rect x="134.2" y="136.5" width="2.1" height="2.1" fill="#ffeef5"/><rect x="136.2" y="136.5" width="2.1" height="2.1" fill="#fff1f7"/><rect x="138.2" y="136.5" width="2.1" height="2.1" fill="#fff3f8"/><rect x="140.2" y="136.5" width="2.1" height="2.1" fill="#fff5f9"/><rect x="142.2" y="136.5" width="2.1" height="2.1" fill="#fff6fa"/><rect x="144.2" y="136.5" width="2.1" height="2.1" fill="#fff8fb"/><rect x="146.2" y="136.5" width="2.1" height="2.1" fill="#fff9fc"/><rect x="148.2" y="136.5" width="2.1" height="2.1" fill="#fffbfc"/><rect x="150.2" y="136.5" width="2.1" height="2.1" fill="#fffcfd"/><rect x="152.2" y="136.5" width="2.1" height="2.1" fill="#fffefe"/><rect x="156.2" y="136.5" width="2.1" height="2.1" fill="#fdfdff"/><rect x="158.2" y="136.5" width="2.1" height="2.1" fill="#fbfbff"/><rect x="160.2" y="136.5" width="2.1" height="2.1" fill="#f9f9ff"/><rect x="162.2" y="136.5" width="2.1" height="2.1" fill="#f6f6ff"/><rect x="164.2" y="136.5" width="2.1" height="2.1" fill="#f3f3ff"/><rect x="166.2" y="136.5" width="2.1" height="2.1" fill="#f0f0ff"/><rect x="168.2" y="136.5" width="2.1" height="2.1" fill="#ececff"/><rect x="170.2" y="136.5" width="2.1" height="2.1" fill="#e7e7ff"/><rect x="172.2" y="136.5" width="2.1" height="2.1" fill="#e1e1ff"/><rect x="174.2" y="136.5" width="2.1" height="2.1" fill="#d4d7ff"/><rect x="176.2" y="136.5" width="2.1" height="2.1" fill="#c5cbff"/><rect x="178.2" y="136.5" width="2.1" height="2.1" fill="#b2beff"/><rect x="180.2" y="136.5" width="2.1" height="2.1" fill="#9eafff"/><rect x="182.2" y="136.5" width="2.1" height="2.1" fill="#849bff"/><rect x="184.2" y="136.5" width="2.1" height="2.1" fill="#6b88ff"/><rect x="186.2" y="136.5" width="2.1" height="2.1" fill="#5878ff"/><rect x="188.2" y="136.5" width="2.1" height="2.1" fill="#4b6bff"/><rect x="190.2" y="136.5" width="2.1" height="2.1" fill="#4363ff"/><rect x="192.2" y="136.5" width="2.1" height="2.1" fill="#3e5eff"/><rect x="194.2" y="136.5" width="2.1" height="2.1" fill="#3f5fff"/><rect x="104.2" y="138.5" width="2.1" height="2.1" fill="#ff3059"/><rect x="106.2" y="138.5" width="2.1" height="2.1" fill="#ff335d"/><rect x="108.2" y="138.5" width="2.1" height="2.1" fill="#ff3966"/><rect x="110.2" y="138.5" width="2.1" height="2.1" fill="#ff4372"/><rect x="112.2" y="138.5" width="2.1" height="2.1" fill="#ff517f"/><rect x="114.2" y="138.5" width="2.1" height="2.1" fill="#ff608c"/><rect x="116.2" y="138.5" width="2.1" height="2.1" fill="#ff719b"/><rect x="118.2" y="138.5" width="2.1" height="2.1" fill="#ff82a9"/><rect x="120.2" y="138.5" width="2.1" height="2.1" fill="#ff97ba"/><rect x="122.2" y="138.5" width="2.1" height="2.1" fill="#ffabc9"/><rect x="124.2" y="138.5" width="2.1" height="2.1" fill="#ffbcd7"/><rect x="126.2" y="138.5" width="2.1" height="2.1" fill="#ffcbe2"/><rect x="128.2" y="138.5" width="2.1" height="2.1" fill="#ffd6e7"/><rect x="130.2" y="138.5" width="2.1" height="2.1" fill="#ffdfec"/><rect x="132.2" y="138.5" width="2.1" height="2.1" fill="#ffe6f1"/><rect x="134.2" y="138.5" width="2.1" height="2.1" fill="#ffecf4"/><rect x="136.2" y="138.5" width="2.1" height="2.1" fill="#fff1f6"/><rect x="138.2" y="138.5" width="2.1" height="2.1" fill="#fff3f8"/><rect x="140.2" y="138.5" width="2.1" height="2.1" fill="#fff4f9"/><rect x="142.2" y="138.5" width="2.1" height="2.1" fill="#fff6fa"/><rect x="144.2" y="138.5" width="2.1" height="2.1" fill="#fff8fb"/><rect x="146.2" y="138.5" width="2.1" height="2.1" fill="#fff9fb"/><rect x="148.2" y="138.5" width="2.1" height="2.1" fill="#fffbfc"/><rect x="150.2" y="138.5" width="2.1" height="2.1" fill="#fffcfd"/><rect x="152.2" y="138.5" width="2.1" height="2.1" fill="#fffefe"/><rect x="156.2" y="138.5" width="2.1" height="2.1" fill="#fdfdff"/><rect x="158.2" y="138.5" width="2.1" height="2.1" fill="#fbfbff"/><rect x="160.2" y="138.5" width="2.1" height="2.1" fill="#f8f8ff"/><rect x="162.2" y="138.5" width="2.1" height="2.1" fill="#f6f6ff"/><rect x="164.2" y="138.5" width="2.1" height="2.1" fill="#f3f3ff"/><rect x="166.2" y="138.5" width="2.1" height="2.1" fill="#efefff"/><rect x="168.2" y="138.5" width="2.1" height="2.1" fill="#ebebff"/><rect x="170.2" y="138.5" width="2.1" height="2.1" fill="#e6e6ff"/><rect x="172.2" y="138.5" width="2.1" height="2.1" fill="#dedfff"/><rect x="174.2" y="138.5" width="2.1" height="2.1" fill="#d0d4ff"/><rect x="176.2" y="138.5" width="2.1" height="2.1" fill="#bfc7ff"/><rect x="178.2" y="138.5" width="2.1" height="2.1" fill="#abb8ff"/><rect x="180.2" y="138.5" width="2.1" height="2.1" fill="#93a6ff"/><rect x="182.2" y="138.5" width="2.1" height="2.1" fill="#7791ff"/><rect x="184.2" y="138.5" width="2.1" height="2.1" fill="#5d7dff"/><rect x="186.2" y="138.5" width="2.1" height="2.1" fill="#4d6dff"/><rect x="188.2" y="138.5" width="2.1" height="2.1" fill="#3f5fff"/><rect x="190.2" y="138.5" width="2.1" height="2.1" fill="#3555ff"/><rect x="192.2" y="138.5" width="2.1" height="2.1" fill="#3151ff"/><rect x="194.2" y="138.5" width="2.1" height="2.1" fill="#3252ff"/><rect x="104.2" y="140.5" width="2.1" height="2.1" fill="#ff2245"/><rect x="106.2" y="140.5" width="2.1" height="2.1" fill="#ff2549"/><rect x="108.2" y="140.5" width="2.1" height="2.1" fill="#ff2c53"/><rect x="110.2" y="140.5" width="2.1" height="2.1" fill="#ff3662"/><rect x="112.2" y="140.5" width="2.1" height="2.1" fill="#ff4473"/><rect x="114.2" y="140.5" width="2.1" height="2.1" fill="#ff5582"/><rect x="116.2" y="140.5" width="2.1" height="2.1" fill="#ff6792"/><rect x="118.2" y="140.5" width="2.1" height="2.1" fill="#ff79a2"/><rect x="120.2" y="140.5" width="2.1" height="2.1" fill="#ff8eb3"/><rect x="122.2" y="140.5" width="2.1" height="2.1" fill="#ffa3c3"/><rect x="124.2" y="140.5" width="2.1" height="2.1" fill="#ffb6d2"/><rect x="126.2" y="140.5" width="2.1" height="2.1" fill="#ffc6df"/><rect x="128.2" y="140.5" width="2.1" height="2.1" fill="#ffd2e6"/><rect x="130.2" y="140.5" width="2.1" height="2.1" fill="#ffdceb"/><rect x="132.2" y="140.5" width="2.1" height="2.1" fill="#ffe4ef"/><rect x="134.2" y="140.5" width="2.1" height="2.1" fill="#ffebf3"/><rect x="136.2" y="140.5" width="2.1" height="2.1" fill="#fff0f6"/><rect x="138.2" y="140.5" width="2.1" height="2.1" fill="#fff2f7"/><rect x="140.2" y="140.5" width="2.1" height="2.1" fill="#fff4f8"/><rect x="142.2" y="140.5" width="2.1" height="2.1" fill="#fff6f9"/><rect x="144.2" y="140.5" width="2.1" height="2.1" fill="#fff7fa"/><rect x="146.2" y="140.5" width="2.1" height="2.1" fill="#fff9fb"/><rect x="148.2" y="140.5" width="2.1" height="2.1" fill="#fffafc"/><rect x="150.2" y="140.5" width="2.1" height="2.1" fill="#fffcfd"/><rect x="152.2" y="140.5" width="2.1" height="2.1" fill="#fffdfe"/><rect x="156.2" y="140.5" width="2.1" height="2.1" fill="#fdfdff"/><rect x="158.2" y="140.5" width="2.1" height="2.1" fill="#fbfbff"/><rect x="160.2" y="140.5" width="2.1" height="2.1" fill="#f8f8ff"/><rect x="162.2" y="140.5" width="2.1" height="2.1" fill="#f5f5ff"/><rect x="164.2" y="140.5" width="2.1" height="2.1" fill="#f2f2ff"/><rect x="166.2" y="140.5" width="2.1" height="2.1" fill="#eeeeff"/><rect x="168.2" y="140.5" width="2.1" height="2.1" fill="#eaeaff"/><rect x="170.2" y="140.5" width="2.1" height="2.1" fill="#e4e4ff"/><rect x="172.2" y="140.5" width="2.1" height="2.1" fill="#dbdcff"/><rect x="174.2" y="140.5" width="2.1" height="2.1" fill="#cbd1ff"/><rect x="176.2" y="140.5" width="2.1" height="2.1" fill="#b9c3ff"/><rect x="178.2" y="140.5" width="2.1" height="2.1" fill="#a4b3ff"/><rect x="180.2" y="140.5" width="2.1" height="2.1" fill="#889eff"/><rect x="182.2" y="140.5" width="2.1" height="2.1" fill="#6987ff"/><rect x="184.2" y="140.5" width="2.1" height="2.1" fill="#5373ff"/><rect x="186.2" y="140.5" width="2.1" height="2.1" fill="#4161ff"/><rect x="188.2" y="140.5" width="2.1" height="2.1" fill="#3252ff"/><rect x="190.2" y="140.5" width="2.1" height="2.1" fill="#2848ff"/><rect x="192.2" y="140.5" width="2.1" height="2.1" fill="#2646ff"/><rect x="194.2" y="140.5" width="2.1" height="2.1" fill="#2646ff"/><rect x="104.2" y="142.5" width="2.1" height="2.1" fill="#ff1430"/><rect x="106.2" y="142.5" width="2.1" height="2.1" fill="#ff1734"/><rect x="108.2" y="142.5" width="2.1" height="2.1" fill="#ff1f3f"/><rect x="110.2" y="142.5" width="2.1" height="2.1" fill="#ff2a50"/><rect x="112.2" y="142.5" width="2.1" height="2.1" fill="#ff3865"/><rect x="114.2" y="142.5" width="2.1" height="2.1" fill="#ff4a78"/><rect x="116.2" y="142.5" width="2.1" height="2.1" fill="#ff5d89"/><rect x="118.2" y="142.5" width="2.1" height="2.1" fill="#ff709a"/><rect x="120.2" y="142.5" width="2.1" height="2.1" fill="#ff84ab"/><rect x="122.2" y="142.5" width="2.1" height="2.1" fill="#ff9bbd"/><rect x="124.2" y="142.5" width="2.1" height="2.1" fill="#ffb0cd"/><rect x="126.2" y="142.5" width="2.1" height="2.1" fill="#ffc1db"/><rect x="128.2" y="142.5" width="2.1" height="2.1" fill="#ffcfe4"/><rect x="130.2" y="142.5" width="2.1" height="2.1" fill="#ffd9e9"/><rect x="132.2" y="142.5" width="2.1" height="2.1" fill="#ffe2ee"/><rect x="134.2" y="142.5" width="2.1" height="2.1" fill="#ffe9f2"/><rect x="136.2" y="142.5" width="2.1" height="2.1" fill="#ffeff5"/><rect x="138.2" y="142.5" width="2.1" height="2.1" fill="#fff2f7"/><rect x="140.2" y="142.5" width="2.1" height="2.1" fill="#fff4f8"/><rect x="142.2" y="142.5" width="2.1" height="2.1" fill="#fff5f9"/><rect x="144.2" y="142.5" width="2.1" height="2.1" fill="#fff7fa"/><rect x="146.2" y="142.5" width="2.1" height="2.1" fill="#fff9fb"/><rect x="148.2" y="142.5" width="2.1" height="2.1" fill="#fffafc"/><rect x="150.2" y="142.5" width="2.1" height="2.1" fill="#fffcfd"/><rect x="152.2" y="142.5" width="2.1" height="2.1" fill="#fffdfe"/><rect x="156.2" y="142.5" width="2.1" height="2.1" fill="#fdfdff"/><rect x="158.2" y="142.5" width="2.1" height="2.1" fill="#fafaff"/><rect x="160.2" y="142.5" width="2.1" height="2.1" fill="#f8f8ff"/><rect x="162.2" y="142.5" width="2.1" height="2.1" fill="#f5f5ff"/><rect x="164.2" y="142.5" width="2.1" height="2.1" fill="#f2f2ff"/><rect x="166.2" y="142.5" width="2.1" height="2.1" fill="#eeeeff"/><rect x="168.2" y="142.5" width="2.1" height="2.1" fill="#e9e9ff"/><rect x="170.2" y="142.5" width="2.1" height="2.1" fill="#e3e3ff"/><rect x="172.2" y="142.5" width="2.1" height="2.1" fill="#d7daff"/><rect x="174.2" y="142.5" width="2.1" height="2.1" fill="#c7cdff"/><rect x="176.2" y="142.5" width="2.1" height="2.1" fill="#b3beff"/><rect x="178.2" y="142.5" width="2.1" height="2.1" fill="#9bacff"/><rect x="180.2" y="142.5" width="2.1" height="2.1" fill="#7c95ff"/><rect x="182.2" y="142.5" width="2.1" height="2.1" fill="#5d7dff"/><rect x="184.2" y="142.5" width="2.1" height="2.1" fill="#4868ff"/><rect x="186.2" y="142.5" width="2.1" height="2.1" fill="#3555ff"/><rect x="188.2" y="142.5" width="2.1" height="2.1" fill="#2747ff"/><rect x="190.2" y="142.5" width="2.1" height="2.1" fill="#2243ff"/><rect x="192.2" y="142.5" width="2.1" height="2.1" fill="#2041ff"/><rect x="194.2" y="142.5" width="2.1" height="2.1" fill="#2041ff"/><rect x="104.2" y="144.5" width="2.1" height="2.1" fill="#ff0e26"/><rect x="106.2" y="144.5" width="2.1" height="2.1" fill="#ff0f28"/><rect x="108.2" y="144.5" width="2.1" height="2.1" fill="#ff132e"/><rect x="110.2" y="144.5" width="2.1" height="2.1" fill="#ff1e3e"/><rect x="112.2" y="144.5" width="2.1" height="2.1" fill="#ff2d54"/><rect x="114.2" y="144.5" width="2.1" height="2.1" fill="#ff3e6e"/><rect x="116.2" y="144.5" width="2.1" height="2.1" fill="#ff5381"/><rect x="118.2" y="144.5" width="2.1" height="2.1" fill="#ff6893"/><rect x="120.2" y="144.5" width="2.1" height="2.1" fill="#ff7ca4"/><rect x="122.2" y="144.5" width="2.1" height="2.1" fill="#ff93b7"/><rect x="124.2" y="144.5" width="2.1" height="2.1" fill="#ffa9c8"/><rect x="126.2" y="144.5" width="2.1" height="2.1" fill="#ffbcd7"/><rect x="128.2" y="144.5" width="2.1" height="2.1" fill="#ffcbe2"/><rect x="130.2" y="144.5" width="2.1" height="2.1" fill="#ffd6e8"/><rect x="132.2" y="144.5" width="2.1" height="2.1" fill="#ffdfed"/><rect x="134.2" y="144.5" width="2.1" height="2.1" fill="#ffe7f1"/><rect x="136.2" y="144.5" width="2.1" height="2.1" fill="#ffedf5"/><rect x="138.2" y="144.5" width="2.1" height="2.1" fill="#fff1f7"/><rect x="140.2" y="144.5" width="2.1" height="2.1" fill="#fff3f8"/><rect x="142.2" y="144.5" width="2.1" height="2.1" fill="#fff5f9"/><rect x="144.2" y="144.5" width="2.1" height="2.1" fill="#fff7fa"/><rect x="146.2" y="144.5" width="2.1" height="2.1" fill="#fff8fb"/><rect x="148.2" y="144.5" width="2.1" height="2.1" fill="#fffafc"/><rect x="150.2" y="144.5" width="2.1" height="2.1" fill="#fffcfd"/><rect x="152.2" y="144.5" width="2.1" height="2.1" fill="#fffdfe"/><rect x="156.2" y="144.5" width="2.1" height="2.1" fill="#fdfdff"/><rect x="158.2" y="144.5" width="2.1" height="2.1" fill="#fafaff"/><rect x="160.2" y="144.5" width="2.1" height="2.1" fill="#f8f8ff"/><rect x="162.2" y="144.5" width="2.1" height="2.1" fill="#f5f5ff"/><rect x="164.2" y="144.5" width="2.1" height="2.1" fill="#f1f1ff"/><rect x="166.2" y="144.5" width="2.1" height="2.1" fill="#ededff"/><rect x="168.2" y="144.5" width="2.1" height="2.1" fill="#e8e8ff"/><rect x="170.2" y="144.5" width="2.1" height="2.1" fill="#e1e1ff"/><rect x="172.2" y="144.5" width="2.1" height="2.1" fill="#d4d7ff"/><rect x="174.2" y="144.5" width="2.1" height="2.1" fill="#c2caff"/><rect x="176.2" y="144.5" width="2.1" height="2.1" fill="#adbaff"/><rect x="178.2" y="144.5" width="2.1" height="2.1" fill="#92a5ff"/><rect x="180.2" y="144.5" width="2.1" height="2.1" fill="#718cff"/><rect x="182.2" y="144.5" width="2.1" height="2.1" fill="#5474ff"/><rect x="184.2" y="144.5" width="2.1" height="2.1" fill="#3e5eff"/><rect x="186.2" y="144.5" width="2.1" height="2.1" fill="#2a4aff"/><rect x="188.2" y="144.5" width="2.1" height="2.1" fill="#2242ff"/><rect x="190.2" y="144.5" width="2.1" height="2.1" fill="#1c3eff"/><rect x="192.2" y="144.5" width="2.1" height="2.1" fill="#1a3cff"/><rect x="194.2" y="144.5" width="2.1" height="2.1" fill="#1a3cff"/><rect x="104.2" y="146.5" width="2.1" height="2.1" fill="#ff0a20"/><rect x="106.2" y="146.5" width="2.1" height="2.1" fill="#ff0a20"/><rect x="108.2" y="146.5" width="2.1" height="2.1" fill="#ff0d25"/><rect x="110.2" y="146.5" width="2.1" height="2.1" fill="#ff132f"/><rect x="112.2" y="146.5" width="2.1" height="2.1" fill="#ff2245"/><rect x="114.2" y="146.5" width="2.1" height="2.1" fill="#ff3560"/><rect x="116.2" y="146.5" width="2.1" height="2.1" fill="#ff4a78"/><rect x="118.2" y="146.5" width="2.1" height="2.1" fill="#ff608c"/><rect x="120.2" y="146.5" width="2.1" height="2.1" fill="#ff759e"/><rect x="122.2" y="146.5" width="2.1" height="2.1" fill="#ff8bb1"/><rect x="124.2" y="146.5" width="2.1" height="2.1" fill="#ffa3c3"/><rect x="126.2" y="146.5" width="2.1" height="2.1" fill="#ffb7d3"/><rect x="128.2" y="146.5" width="2.1" height="2.1" fill="#ffc8e0"/><rect x="130.2" y="146.5" width="2.1" height="2.1" fill="#ffd4e6"/><rect x="132.2" y="146.5" width="2.1" height="2.1" fill="#ffddec"/><rect x="134.2" y="146.5" width="2.1" height="2.1" fill="#ffe5f0"/><rect x="136.2" y="146.5" width="2.1" height="2.1" fill="#ffecf4"/><rect x="138.2" y="146.5" width="2.1" height="2.1" fill="#fff1f6"/><rect x="140.2" y="146.5" width="2.1" height="2.1" fill="#fff3f8"/><rect x="142.2" y="146.5" width="2.1" height="2.1" fill="#fff5f9"/><rect x="144.2" y="146.5" width="2.1" height="2.1" fill="#fff7fa"/><rect x="146.2" y="146.5" width="2.1" height="2.1" fill="#fff8fb"/><rect x="148.2" y="146.5" width="2.1" height="2.1" fill="#fffafc"/><rect x="150.2" y="146.5" width="2.1" height="2.1" fill="#fffcfd"/><rect x="152.2" y="146.5" width="2.1" height="2.1" fill="#fffdfe"/><rect x="156.2" y="146.5" width="2.1" height="2.1" fill="#fdfdff"/><rect x="158.2" y="146.5" width="2.1" height="2.1" fill="#fafaff"/><rect x="160.2" y="146.5" width="2.1" height="2.1" fill="#f7f7ff"/><rect x="162.2" y="146.5" width="2.1" height="2.1" fill="#f4f4ff"/><rect x="164.2" y="146.5" width="2.1" height="2.1" fill="#f1f1ff"/><rect x="166.2" y="146.5" width="2.1" height="2.1" fill="#ececff"/><rect x="168.2" y="146.5" width="2.1" height="2.1" fill="#e7e7ff"/><rect x="170.2" y="146.5" width="2.1" height="2.1" fill="#e0e0ff"/><rect x="172.2" y="146.5" width="2.1" height="2.1" fill="#d1d4ff"/><rect x="174.2" y="146.5" width="2.1" height="2.1" fill="#bec6ff"/><rect x="176.2" y="146.5" width="2.1" height="2.1" fill="#a7b5ff"/><rect x="178.2" y="146.5" width="2.1" height="2.1" fill="#899fff"/><rect x="180.2" y="146.5" width="2.1" height="2.1" fill="#6584ff"/><rect x="182.2" y="146.5" width="2.1" height="2.1" fill="#4c6cff"/><rect x="184.2" y="146.5" width="2.1" height="2.1" fill="#3454ff"/><rect x="186.2" y="146.5" width="2.1" height="2.1" fill="#2445ff"/><rect x="188.2" y="146.5" width="2.1" height="2.1" fill="#1c3eff"/><rect x="190.2" y="146.5" width="2.1" height="2.1" fill="#1a3cff"/><rect x="192.2" y="146.5" width="2.1" height="2.1" fill="#1a3cff"/><rect x="194.2" y="146.5" width="2.1" height="2.1" fill="#1a3cff"/><rect x="104.2" y="148.5" width="2.1" height="2.1" fill="#ff0a20"/><rect x="106.2" y="148.5" width="2.1" height="2.1" fill="#ff0a20"/><rect x="108.2" y="148.5" width="2.1" height="2.1" fill="#ff0a20"/><rect x="110.2" y="148.5" width="2.1" height="2.1" fill="#ff0e27"/><rect x="112.2" y="148.5" width="2.1" height="2.1" fill="#ff1836"/><rect x="114.2" y="148.5" width="2.1" height="2.1" fill="#ff2c53"/><rect x="116.2" y="148.5" width="2.1" height="2.1" fill="#ff4171"/><rect x="118.2" y="148.5" width="2.1" height="2.1" fill="#ff5885"/><rect x="120.2" y="148.5" width="2.1" height="2.1" fill="#ff6f99"/><rect x="122.2" y="148.5" width="2.1" height="2.1" fill="#ff84ab"/><rect x="124.2" y="148.5" width="2.1" height="2.1" fill="#ff9dbf"/><rect x="126.2" y="148.5" width="2.1" height="2.1" fill="#ffb2cf"/><rect x="128.2" y="148.5" width="2.1" height="2.1" fill="#ffc4dd"/><rect x="130.2" y="148.5" width="2.1" height="2.1" fill="#ffd1e5"/><rect x="132.2" y="148.5" width="2.1" height="2.1" fill="#ffdbeb"/><rect x="134.2" y="148.5" width="2.1" height="2.1" fill="#ffe4ef"/><rect x="136.2" y="148.5" width="2.1" height="2.1" fill="#ffebf3"/><rect x="138.2" y="148.5" width="2.1" height="2.1" fill="#fff0f6"/><rect x="140.2" y="148.5" width="2.1" height="2.1" fill="#fff2f7"/><rect x="142.2" y="148.5" width="2.1" height="2.1" fill="#fff4f9"/><rect x="144.2" y="148.5" width="2.1" height="2.1" fill="#fff6fa"/><rect x="146.2" y="148.5" width="2.1" height="2.1" fill="#fff8fb"/><rect x="148.2" y="148.5" width="2.1" height="2.1" fill="#fffafc"/><rect x="150.2" y="148.5" width="2.1" height="2.1" fill="#fffcfd"/><rect x="152.2" y="148.5" width="2.1" height="2.1" fill="#fffdfe"/><rect x="156.2" y="148.5" width="2.1" height="2.1" fill="#fcfcff"/><rect x="158.2" y="148.5" width="2.1" height="2.1" fill="#fafaff"/><rect x="160.2" y="148.5" width="2.1" height="2.1" fill="#f7f7ff"/><rect x="162.2" y="148.5" width="2.1" height="2.1" fill="#f4f4ff"/><rect x="164.2" y="148.5" width="2.1" height="2.1" fill="#f0f0ff"/><rect x="166.2" y="148.5" width="2.1" height="2.1" fill="#ebebff"/><rect x="168.2" y="148.5" width="2.1" height="2.1" fill="#e6e6ff"/><rect x="170.2" y="148.5" width="2.1" height="2.1" fill="#dedeff"/><rect x="172.2" y="148.5" width="2.1" height="2.1" fill="#cdd2ff"/><rect x="174.2" y="148.5" width="2.1" height="2.1" fill="#bac3ff"/><rect x="176.2" y="148.5" width="2.1" height="2.1" fill="#a2b1ff"/><rect x="178.2" y="148.5" width="2.1" height="2.1" fill="#8098ff"/><rect x="180.2" y="148.5" width="2.1" height="2.1" fill="#5d7dff"/><rect x="182.2" y="148.5" width="2.1" height="2.1" fill="#4464ff"/><rect x="184.2" y="148.5" width="2.1" height="2.1" fill="#2b4bff"/><rect x="186.2" y="148.5" width="2.1" height="2.1" fill="#2041ff"/><rect x="188.2" y="148.5" width="2.1" height="2.1" fill="#1a3cff"/><rect x="190.2" y="148.5" width="2.1" height="2.1" fill="#1a3cff"/><rect x="192.2" y="148.5" width="2.1" height="2.1" fill="#1a3cff"/><rect x="194.2" y="148.5" width="2.1" height="2.1" fill="#1a3cff"/><rect x="104.2" y="150.5" width="2.1" height="2.1" fill="#ff0a20"/><rect x="106.2" y="150.5" width="2.1" height="2.1" fill="#ff0a20"/><rect x="108.2" y="150.5" width="2.1" height="2.1" fill="#ff0a20"/><rect x="110.2" y="150.5" width="2.1" height="2.1" fill="#ff0a20"/><rect x="112.2" y="150.5" width="2.1" height="2.1" fill="#ff122d"/><rect x="114.2" y="150.5" width="2.1" height="2.1" fill="#ff2447"/><rect x="116.2" y="150.5" width="2.1" height="2.1" fill="#ff3a67"/><rect x="118.2" y="150.5" width="2.1" height="2.1" fill="#ff527f"/><rect x="120.2" y="150.5" width="2.1" height="2.1" fill="#ff6994"/><rect x="122.2" y="150.5" width="2.1" height="2.1" fill="#ff7ea7"/><rect x="124.2" y="150.5" width="2.1" height="2.1" fill="#ff98bb"/><rect x="126.2" y="150.5" width="2.1" height="2.1" fill="#ffaecc"/><rect x="128.2" y="150.5" width="2.1" height="2.1" fill="#ffc1da"/><rect x="130.2" y="150.5" width="2.1" height="2.1" fill="#ffcfe4"/><rect x="132.2" y="150.5" width="2.1" height="2.1" fill="#ffd9ea"/><rect x="134.2" y="150.5" width="2.1" height="2.1" fill="#ffe2ee"/><rect x="136.2" y="150.5" width="2.1" height="2.1" fill="#ffeaf2"/><rect x="138.2" y="150.5" width="2.1" height="2.1" fill="#fff0f6"/><rect x="140.2" y="150.5" width="2.1" height="2.1" fill="#fff2f7"/><rect x="142.2" y="150.5" width="2.1" height="2.1" fill="#fff4f9"/><rect x="144.2" y="150.5" width="2.1" height="2.1" fill="#fff6fa"/><rect x="146.2" y="150.5" width="2.1" height="2.1" fill="#fff8fb"/><rect x="148.2" y="150.5" width="2.1" height="2.1" fill="#fffafc"/><rect x="150.2" y="150.5" width="2.1" height="2.1" fill="#fffbfd"/><rect x="152.2" y="150.5" width="2.1" height="2.1" fill="#fffdfe"/><rect x="156.2" y="150.5" width="2.1" height="2.1" fill="#fcfcff"/><rect x="158.2" y="150.5" width="2.1" height="2.1" fill="#fafaff"/><rect x="160.2" y="150.5" width="2.1" height="2.1" fill="#f7f7ff"/><rect x="162.2" y="150.5" width="2.1" height="2.1" fill="#f4f4ff"/><rect x="164.2" y="150.5" width="2.1" height="2.1" fill="#f0f0ff"/><rect x="166.2" y="150.5" width="2.1" height="2.1" fill="#ebebff"/><rect x="168.2" y="150.5" width="2.1" height="2.1" fill="#e5e5ff"/><rect x="170.2" y="150.5" width="2.1" height="2.1" fill="#dcddff"/><rect x="172.2" y="150.5" width="2.1" height="2.1" fill="#cbd0ff"/><rect x="174.2" y="150.5" width="2.1" height="2.1" fill="#b6c0ff"/><rect x="176.2" y="150.5" width="2.1" height="2.1" fill="#9cadff"/><rect x="178.2" y="150.5" width="2.1" height="2.1" fill="#7993ff"/><rect x="180.2" y="150.5" width="2.1" height="2.1" fill="#5777ff"/><rect x="182.2" y="150.5" width="2.1" height="2.1" fill="#3d5dff"/><rect x="184.2" y="150.5" width="2.1" height="2.1" fill="#2646ff"/><rect x="186.2" y="150.5" width="2.1" height="2.1" fill="#1c3dff"/><rect x="188.2" y="150.5" width="2.1" height="2.1" fill="#1a3cff"/><rect x="190.2" y="150.5" width="2.1" height="2.1" fill="#1a3cff"/><rect x="192.2" y="150.5" width="2.1" height="2.1" fill="#1a3cff"/><rect x="194.2" y="150.5" width="2.1" height="2.1" fill="#1a3cff"/><rect x="104.2" y="152.5" width="2.1" height="2.1" fill="#ff0a20"/><rect x="106.2" y="152.5" width="2.1" height="2.1" fill="#ff0a20"/><rect x="108.2" y="152.5" width="2.1" height="2.1" fill="#ff0a20"/><rect x="110.2" y="152.5" width="2.1" height="2.1" fill="#ff0a20"/><rect x="112.2" y="152.5" width="2.1" height="2.1" fill="#ff0e27"/><rect x="114.2" y="152.5" width="2.1" height="2.1" fill="#ff1d3e"/><rect x="116.2" y="152.5" width="2.1" height="2.1" fill="#ff345e"/><rect x="118.2" y="152.5" width="2.1" height="2.1" fill="#ff4c7a"/><rect x="120.2" y="152.5" width="2.1" height="2.1" fill="#ff6490"/><rect x="122.2" y="152.5" width="2.1" height="2.1" fill="#ff7aa3"/><rect x="124.2" y="152.5" width="2.1" height="2.1" fill="#ff93b7"/><rect x="126.2" y="152.5" width="2.1" height="2.1" fill="#ffabc9"/><rect x="128.2" y="152.5" width="2.1" height="2.1" fill="#ffbed8"/><rect x="130.2" y="152.5" width="2.1" height="2.1" fill="#ffcde3"/><rect x="132.2" y="152.5" width="2.1" height="2.1" fill="#ffd8e9"/><rect x="134.2" y="152.5" width="2.1" height="2.1" fill="#ffe1ee"/><rect x="136.2" y="152.5" width="2.1" height="2.1" fill="#ffe9f2"/><rect x="138.2" y="152.5" width="2.1" height="2.1" fill="#ffeff5"/><rect x="140.2" y="152.5" width="2.1" height="2.1" fill="#fff2f7"/><rect x="142.2" y="152.5" width="2.1" height="2.1" fill="#fff4f8"/><rect x="144.2" y="152.5" width="2.1" height="2.1" fill="#fff6fa"/><rect x="146.2" y="152.5" width="2.1" height="2.1" fill="#fff8fb"/><rect x="148.2" y="152.5" width="2.1" height="2.1" fill="#fffafc"/><rect x="150.2" y="152.5" width="2.1" height="2.1" fill="#fffbfd"/><rect x="152.2" y="152.5" width="2.1" height="2.1" fill="#fffdfe"/><rect x="156.2" y="152.5" width="2.1" height="2.1" fill="#fcfcff"/><rect x="158.2" y="152.5" width="2.1" height="2.1" fill="#fafaff"/><rect x="160.2" y="152.5" width="2.1" height="2.1" fill="#f7f7ff"/><rect x="162.2" y="152.5" width="2.1" height="2.1" fill="#f3f3ff"/><rect x="164.2" y="152.5" width="2.1" height="2.1" fill="#efefff"/><rect x="166.2" y="152.5" width="2.1" height="2.1" fill="#eaeaff"/><rect x="168.2" y="152.5" width="2.1" height="2.1" fill="#e4e4ff"/><rect x="170.2" y="152.5" width="2.1" height="2.1" fill="#dadbff"/><rect x="172.2" y="152.5" width="2.1" height="2.1" fill="#c8ceff"/><rect x="174.2" y="152.5" width="2.1" height="2.1" fill="#b3beff"/><rect x="176.2" y="152.5" width="2.1" height="2.1" fill="#97a9ff"/><rect x="178.2" y="152.5" width="2.1" height="2.1" fill="#728eff"/><rect x="180.2" y="152.5" width="2.1" height="2.1" fill="#5272ff"/><rect x="182.2" y="152.5" width="2.1" height="2.1" fill="#3757ff"/><rect x="184.2" y="152.5" width="2.1" height="2.1" fill="#2344ff"/><rect x="186.2" y="152.5" width="2.1" height="2.1" fill="#1a3cff"/><rect x="188.2" y="152.5" width="2.1" height="2.1" fill="#1a3cff"/><rect x="190.2" y="152.5" width="2.1" height="2.1" fill="#1a3cff"/><rect x="192.2" y="152.5" width="2.1" height="2.1" fill="#1a3cff"/><rect x="194.2" y="152.5" width="2.1" height="2.1" fill="#1a3cff"/><rect x="104.2" y="154.5" width="2.1" height="2.1" fill="#ff0a20"/><rect x="106.2" y="154.5" width="2.1" height="2.1" fill="#ff0a20"/><rect x="108.2" y="154.5" width="2.1" height="2.1" fill="#ff0a20"/><rect x="110.2" y="154.5" width="2.1" height="2.1" fill="#ff0a20"/><rect x="112.2" y="154.5" width="2.1" height="2.1" fill="#ff0c23"/><rect x="114.2" y="154.5" width="2.1" height="2.1" fill="#ff1836"/><rect x="116.2" y="154.5" width="2.1" height="2.1" fill="#ff2f58"/><rect x="118.2" y="154.5" width="2.1" height="2.1" fill="#ff4776"/><rect x="120.2" y="154.5" width="2.1" height="2.1" fill="#ff608c"/><rect x="122.2" y="154.5" width="2.1" height="2.1" fill="#ff77a0"/><rect x="124.2" y="154.5" width="2.1" height="2.1" fill="#ff90b4"/><rect x="126.2" y="154.5" width="2.1" height="2.1" fill="#ffa8c7"/><rect x="128.2" y="154.5" width="2.1" height="2.1" fill="#ffbcd6"/><rect x="130.2" y="154.5" width="2.1" height="2.1" fill="#ffcbe2"/><rect x="132.2" y="154.5" width="2.1" height="2.1" fill="#ffd7e8"/><rect x="134.2" y="154.5" width="2.1" height="2.1" fill="#ffe0ed"/><rect x="136.2" y="154.5" width="2.1" height="2.1" fill="#ffe8f1"/><rect x="138.2" y="154.5" width="2.1" height="2.1" fill="#ffeef5"/><rect x="140.2" y="154.5" width="2.1" height="2.1" fill="#fff2f7"/><rect x="142.2" y="154.5" width="2.1" height="2.1" fill="#fff4f8"/><rect x="144.2" y="154.5" width="2.1" height="2.1" fill="#fff6f9"/><rect x="146.2" y="154.5" width="2.1" height="2.1" fill="#fff8fb"/><rect x="148.2" y="154.5" width="2.1" height="2.1" fill="#fffafc"/><rect x="150.2" y="154.5" width="2.1" height="2.1" fill="#fffbfd"/><rect x="152.2" y="154.5" width="2.1" height="2.1" fill="#fffdfe"/><rect x="156.2" y="154.5" width="2.1" height="2.1" fill="#fcfcff"/><rect x="158.2" y="154.5" width="2.1" height="2.1" fill="#fafaff"/><rect x="160.2" y="154.5" width="2.1" height="2.1" fill="#f7f7ff"/><rect x="162.2" y="154.5" width="2.1" height="2.1" fill="#f3f3ff"/><rect x="164.2" y="154.5" width="2.1" height="2.1" fill="#efefff"/><rect x="166.2" y="154.5" width="2.1" height="2.1" fill="#eaeaff"/><rect x="168.2" y="154.5" width="2.1" height="2.1" fill="#e4e4ff"/><rect x="170.2" y="154.5" width="2.1" height="2.1" fill="#d8daff"/><rect x="172.2" y="154.5" width="2.1" height="2.1" fill="#c6cdff"/><rect x="174.2" y="154.5" width="2.1" height="2.1" fill="#b0bcff"/><rect x="176.2" y="154.5" width="2.1" height="2.1" fill="#93a6ff"/><rect x="178.2" y="154.5" width="2.1" height="2.1" fill="#6d8aff"/><rect x="180.2" y="154.5" width="2.1" height="2.1" fill="#4e6eff"/><rect x="182.2" y="154.5" width="2.1" height="2.1" fill="#3252ff"/><rect x="184.2" y="154.5" width="2.1" height="2.1" fill="#2042ff"/><rect x="186.2" y="154.5" width="2.1" height="2.1" fill="#1a3cff"/><rect x="188.2" y="154.5" width="2.1" height="2.1" fill="#1a3cff"/><rect x="190.2" y="154.5" width="2.1" height="2.1" fill="#1a3cff"/><rect x="192.2" y="154.5" width="2.1" height="2.1" fill="#1a3cff"/><rect x="194.2" y="154.5" width="2.1" height="2.1" fill="#1a3cff"/><rect x="104.2" y="156.5" width="2.1" height="2.1" fill="#ff0a20"/><rect x="106.2" y="156.5" width="2.1" height="2.1" fill="#ff0a20"/><rect x="108.2" y="156.5" width="2.1" height="2.1" fill="#ff0a20"/><rect x="110.2" y="156.5" width="2.1" height="2.1" fill="#ff0a20"/><rect x="112.2" y="156.5" width="2.1" height="2.1" fill="#ff0a20"/><rect x="114.2" y="156.5" width="2.1" height="2.1" fill="#ff1430"/><rect x="116.2" y="156.5" width="2.1" height="2.1" fill="#ff2c53"/><rect x="118.2" y="156.5" width="2.1" height="2.1" fill="#ff4474"/><rect x="120.2" y="156.5" width="2.1" height="2.1" fill="#ff5e8a"/><rect x="122.2" y="156.5" width="2.1" height="2.1" fill="#ff759e"/><rect x="124.2" y="156.5" width="2.1" height="2.1" fill="#ff8db2"/><rect x="126.2" y="156.5" width="2.1" height="2.1" fill="#ffa6c5"/><rect x="128.2" y="156.5" width="2.1" height="2.1" fill="#ffbad5"/><rect x="130.2" y="156.5" width="2.1" height="2.1" fill="#ffcae1"/><rect x="132.2" y="156.5" width="2.1" height="2.1" fill="#ffd6e8"/><rect x="134.2" y="156.5" width="2.1" height="2.1" fill="#ffdfed"/><rect x="136.2" y="156.5" width="2.1" height="2.1" fill="#ffe7f1"/><rect x="138.2" y="156.5" width="2.1" height="2.1" fill="#ffeef5"/><rect x="140.2" y="156.5" width="2.1" height="2.1" fill="#fff2f7"/><rect x="142.2" y="156.5" width="2.1" height="2.1" fill="#fff4f8"/><rect x="144.2" y="156.5" width="2.1" height="2.1" fill="#fff6f9"/><rect x="146.2" y="156.5" width="2.1" height="2.1" fill="#fff8fb"/><rect x="148.2" y="156.5" width="2.1" height="2.1" fill="#fff9fc"/><rect x="150.2" y="156.5" width="2.1" height="2.1" fill="#fffbfd"/><rect x="152.2" y="156.5" width="2.1" height="2.1" fill="#fffdfe"/><rect x="156.2" y="156.5" width="2.1" height="2.1" fill="#fcfcff"/><rect x="158.2" y="156.5" width="2.1" height="2.1" fill="#fafaff"/><rect x="160.2" y="156.5" width="2.1" height="2.1" fill="#f6f6ff"/><rect x="162.2" y="156.5" width="2.1" height="2.1" fill="#f3f3ff"/><rect x="164.2" y="156.5" width="2.1" height="2.1" fill="#efefff"/><rect x="166.2" y="156.5" width="2.1" height="2.1" fill="#eaeaff"/><rect x="168.2" y="156.5" width="2.1" height="2.1" fill="#e3e3ff"/><rect x="170.2" y="156.5" width="2.1" height="2.1" fill="#d7daff"/><rect x="172.2" y="156.5" width="2.1" height="2.1" fill="#c5ccff"/><rect x="174.2" y="156.5" width="2.1" height="2.1" fill="#aebbff"/><rect x="176.2" y="156.5" width="2.1" height="2.1" fill="#90a4ff"/><rect x="178.2" y="156.5" width="2.1" height="2.1" fill="#6a87ff"/><rect x="180.2" y="156.5" width="2.1" height="2.1" fill="#4b6bff"/><rect x="182.2" y="156.5" width="2.1" height="2.1" fill="#2e4eff"/><rect x="184.2" y="156.5" width="2.1" height="2.1" fill="#1f40ff"/><rect x="186.2" y="156.5" width="2.1" height="2.1" fill="#1a3cff"/><rect x="188.2" y="156.5" width="2.1" height="2.1" fill="#1a3cff"/><rect x="190.2" y="156.5" width="2.1" height="2.1" fill="#1a3cff"/><rect x="192.2" y="156.5" width="2.1" height="2.1" fill="#1a3cff"/><rect x="194.2" y="156.5" width="2.1" height="2.1" fill="#1a3cff"/><rect x="104.2" y="158.5" width="2.1" height="2.1" fill="#ff0a20"/><rect x="106.2" y="158.5" width="2.1" height="2.1" fill="#ff0a20"/><rect x="108.2" y="158.5" width="2.1" height="2.1" fill="#ff0a20"/><rect x="110.2" y="158.5" width="2.1" height="2.1" fill="#ff0a20"/><rect x="112.2" y="158.5" width="2.1" height="2.1" fill="#ff0a20"/><rect x="114.2" y="158.5" width="2.1" height="2.1" fill="#ff132f"/><rect x="116.2" y="158.5" width="2.1" height="2.1" fill="#ff2a50"/><rect x="118.2" y="158.5" width="2.1" height="2.1" fill="#ff4272"/><rect x="120.2" y="158.5" width="2.1" height="2.1" fill="#ff5c89"/><rect x="122.2" y="158.5" width="2.1" height="2.1" fill="#ff749d"/><rect x="124.2" y="158.5" width="2.1" height="2.1" fill="#ff8cb1"/><rect x="126.2" y="158.5" width="2.1" height="2.1" fill="#ffa5c5"/><rect x="128.2" y="158.5" width="2.1" height="2.1" fill="#ffb9d4"/><rect x="130.2" y="158.5" width="2.1" height="2.1" fill="#ffcae1"/><rect x="132.2" y="158.5" width="2.1" height="2.1" fill="#ffd5e7"/><rect x="134.2" y="158.5" width="2.1" height="2.1" fill="#ffdfed"/><rect x="136.2" y="158.5" width="2.1" height="2.1" fill="#ffe7f1"/><rect x="138.2" y="158.5" width="2.1" height="2.1" fill="#ffeef5"/><rect x="140.2" y="158.5" width="2.1" height="2.1" fill="#fff1f7"/><rect x="142.2" y="158.5" width="2.1" height="2.1" fill="#fff4f8"/><rect x="144.2" y="158.5" width="2.1" height="2.1" fill="#fff6f9"/><rect x="146.2" y="158.5" width="2.1" height="2.1" fill="#fff8fb"/><rect x="148.2" y="158.5" width="2.1" height="2.1" fill="#fff9fc"/><rect x="150.2" y="158.5" width="2.1" height="2.1" fill="#fffbfd"/><rect x="152.2" y="158.5" width="2.1" height="2.1" fill="#fffdfe"/><rect x="156.2" y="158.5" width="2.1" height="2.1" fill="#fcfcff"/><rect x="158.2" y="158.5" width="2.1" height="2.1" fill="#fafaff"/><rect x="160.2" y="158.5" width="2.1" height="2.1" fill="#f6f6ff"/><rect x="162.2" y="158.5" width="2.1" height="2.1" fill="#f3f3ff"/><rect x="164.2" y="158.5" width="2.1" height="2.1" fill="#efefff"/><rect x="166.2" y="158.5" width="2.1" height="2.1" fill="#e9e9ff"/><rect x="168.2" y="158.5" width="2.1" height="2.1" fill="#e3e3ff"/><rect x="170.2" y="158.5" width="2.1" height="2.1" fill="#d7d9ff"/><rect x="172.2" y="158.5" width="2.1" height="2.1" fill="#c4cbff"/><rect x="174.2" y="158.5" width="2.1" height="2.1" fill="#adbaff"/><rect x="176.2" y="158.5" width="2.1" height="2.1" fill="#8fa3ff"/><rect x="178.2" y="158.5" width="2.1" height="2.1" fill="#6886ff"/><rect x="180.2" y="158.5" width="2.1" height="2.1" fill="#4a6aff"/><rect x="182.2" y="158.5" width="2.1" height="2.1" fill="#2d4dff"/><rect x="184.2" y="158.5" width="2.1" height="2.1" fill="#1e3fff"/><rect x="186.2" y="158.5" width="2.1" height="2.1" fill="#1a3cff"/><rect x="188.2" y="158.5" width="2.1" height="2.1" fill="#1a3cff"/><rect x="190.2" y="158.5" width="2.1" height="2.1" fill="#1a3cff"/><rect x="192.2" y="158.5" width="2.1" height="2.1" fill="#1a3cff"/><rect x="194.2" y="158.5" width="2.1" height="2.1" fill="#1a3cff"/><rect x="104.2" y="160.5" width="2.1" height="2.1" fill="#ff0a20"/><rect x="106.2" y="160.5" width="2.1" height="2.1" fill="#ff0a20"/><rect x="108.2" y="160.5" width="2.1" height="2.1" fill="#ff0a20"/><rect x="110.2" y="160.5" width="2.1" height="2.1" fill="#ff0a20"/><rect x="112.2" y="160.5" width="2.1" height="2.1" fill="#ff0a20"/><rect x="114.2" y="160.5" width="2.1" height="2.1" fill="#ff132e"/><rect x="116.2" y="160.5" width="2.1" height="2.1" fill="#ff2a50"/><rect x="118.2" y="160.5" width="2.1" height="2.1" fill="#ff4272"/><rect x="120.2" y="160.5" width="2.1" height="2.1" fill="#ff5c89"/><rect x="122.2" y="160.5" width="2.1" height="2.1" fill="#ff749d"/><rect x="124.2" y="160.5" width="2.1" height="2.1" fill="#ff8cb1"/><rect x="126.2" y="160.5" width="2.1" height="2.1" fill="#ffa4c4"/><rect x="128.2" y="160.5" width="2.1" height="2.1" fill="#ffb9d4"/><rect x="130.2" y="160.5" width="2.1" height="2.1" fill="#ffcae1"/><rect x="132.2" y="160.5" width="2.1" height="2.1" fill="#ffd5e7"/><rect x="134.2" y="160.5" width="2.1" height="2.1" fill="#ffdfed"/><rect x="136.2" y="160.5" width="2.1" height="2.1" fill="#ffe7f1"/><rect x="138.2" y="160.5" width="2.1" height="2.1" fill="#ffeef5"/><rect x="140.2" y="160.5" width="2.1" height="2.1" fill="#fff1f7"/><rect x="142.2" y="160.5" width="2.1" height="2.1" fill="#fff4f8"/><rect x="144.2" y="160.5" width="2.1" height="2.1" fill="#fff6f9"/><rect x="146.2" y="160.5" width="2.1" height="2.1" fill="#fff8fb"/><rect x="148.2" y="160.5" width="2.1" height="2.1" fill="#fff9fc"/><rect x="150.2" y="160.5" width="2.1" height="2.1" fill="#fffbfd"/><rect x="152.2" y="160.5" width="2.1" height="2.1" fill="#fffdfe"/><rect x="156.2" y="160.5" width="2.1" height="2.1" fill="#fcfcff"/><rect x="158.2" y="160.5" width="2.1" height="2.1" fill="#fafaff"/><rect x="160.2" y="160.5" width="2.1" height="2.1" fill="#f6f6ff"/><rect x="162.2" y="160.5" width="2.1" height="2.1" fill="#f3f3ff"/><rect x="164.2" y="160.5" width="2.1" height="2.1" fill="#efefff"/><rect x="166.2" y="160.5" width="2.1" height="2.1" fill="#e9e9ff"/><rect x="168.2" y="160.5" width="2.1" height="2.1" fill="#e3e3ff"/><rect x="170.2" y="160.5" width="2.1" height="2.1" fill="#d7d9ff"/><rect x="172.2" y="160.5" width="2.1" height="2.1" fill="#c4cbff"/><rect x="174.2" y="160.5" width="2.1" height="2.1" fill="#adbaff"/><rect x="176.2" y="160.5" width="2.1" height="2.1" fill="#8ea3ff"/><rect x="178.2" y="160.5" width="2.1" height="2.1" fill="#6786ff"/><rect x="180.2" y="160.5" width="2.1" height="2.1" fill="#4969ff"/><rect x="182.2" y="160.5" width="2.1" height="2.1" fill="#2c4cff"/><rect x="184.2" y="160.5" width="2.1" height="2.1" fill="#1e3fff"/><rect x="186.2" y="160.5" width="2.1" height="2.1" fill="#1a3cff"/><rect x="188.2" y="160.5" width="2.1" height="2.1" fill="#1a3cff"/><rect x="190.2" y="160.5" width="2.1" height="2.1" fill="#1a3cff"/><rect x="192.2" y="160.5" width="2.1" height="2.1" fill="#1a3cff"/><rect x="194.2" y="160.5" width="2.1" height="2.1" fill="#1a3cff"/><rect x="104.2" y="162.5" width="2.1" height="2.1" fill="#ff0a20"/><rect x="106.2" y="162.5" width="2.1" height="2.1" fill="#ff0a20"/><rect x="108.2" y="162.5" width="2.1" height="2.1" fill="#ff0a20"/><rect x="110.2" y="162.5" width="2.1" height="2.1" fill="#ff0a20"/><rect x="112.2" y="162.5" width="2.1" height="2.1" fill="#ff0a20"/><rect x="114.2" y="162.5" width="2.1" height="2.1" fill="#ff142f"/><rect x="116.2" y="162.5" width="2.1" height="2.1" fill="#ff2b52"/><rect x="118.2" y="162.5" width="2.1" height="2.1" fill="#ff4373"/><rect x="120.2" y="162.5" width="2.1" height="2.1" fill="#ff5d89"/><rect x="122.2" y="162.5" width="2.1" height="2.1" fill="#ff759e"/><rect x="124.2" y="162.5" width="2.1" height="2.1" fill="#ff8db2"/><rect x="126.2" y="162.5" width="2.1" height="2.1" fill="#ffa5c5"/><rect x="128.2" y="162.5" width="2.1" height="2.1" fill="#ffbad5"/><rect x="130.2" y="162.5" width="2.1" height="2.1" fill="#ffcae1"/><rect x="132.2" y="162.5" width="2.1" height="2.1" fill="#ffd6e7"/><rect x="134.2" y="162.5" width="2.1" height="2.1" fill="#ffdfed"/><rect x="136.2" y="162.5" width="2.1" height="2.1" fill="#ffe7f1"/><rect x="138.2" y="162.5" width="2.1" height="2.1" fill="#ffeef5"/><rect x="140.2" y="162.5" width="2.1" height="2.1" fill="#fff1f7"/><rect x="142.2" y="162.5" width="2.1" height="2.1" fill="#fff4f8"/><rect x="144.2" y="162.5" width="2.1" height="2.1" fill="#fff6f9"/><rect x="146.2" y="162.5" width="2.1" height="2.1" fill="#fff8fb"/><rect x="148.2" y="162.5" width="2.1" height="2.1" fill="#fff9fc"/><rect x="150.2" y="162.5" width="2.1" height="2.1" fill="#fffbfd"/><rect x="152.2" y="162.5" width="2.1" height="2.1" fill="#fffdfe"/><rect x="156.2" y="162.5" width="2.1" height="2.1" fill="#fcfcff"/><rect x="158.2" y="162.5" width="2.1" height="2.1" fill="#fafaff"/><rect x="160.2" y="162.5" width="2.1" height="2.1" fill="#f6f6ff"/><rect x="162.2" y="162.5" width="2.1" height="2.1" fill="#f3f3ff"/><rect x="164.2" y="162.5" width="2.1" height="2.1" fill="#efefff"/><rect x="166.2" y="162.5" width="2.1" height="2.1" fill="#eaeaff"/><rect x="168.2" y="162.5" width="2.1" height="2.1" fill="#e3e3ff"/><rect x="170.2" y="162.5" width="2.1" height="2.1" fill="#d7d9ff"/><rect x="172.2" y="162.5" width="2.1" height="2.1" fill="#c5cbff"/><rect x="174.2" y="162.5" width="2.1" height="2.1" fill="#aebaff"/><rect x="176.2" y="162.5" width="2.1" height="2.1" fill="#8fa4ff"/><rect x="178.2" y="162.5" width="2.1" height="2.1" fill="#6987ff"/><rect x="180.2" y="162.5" width="2.1" height="2.1" fill="#4a6aff"/><rect x="182.2" y="162.5" width="2.1" height="2.1" fill="#2e4eff"/><rect x="184.2" y="162.5" width="2.1" height="2.1" fill="#1e40ff"/><rect x="186.2" y="162.5" width="2.1" height="2.1" fill="#1a3cff"/><rect x="188.2" y="162.5" width="2.1" height="2.1" fill="#1a3cff"/><rect x="190.2" y="162.5" width="2.1" height="2.1" fill="#1a3cff"/><rect x="192.2" y="162.5" width="2.1" height="2.1" fill="#1a3cff"/><rect x="194.2" y="162.5" width="2.1" height="2.1" fill="#1a3cff"/><rect x="104.2" y="164.5" width="2.1" height="2.1" fill="#ff0a20"/><rect x="106.2" y="164.5" width="2.1" height="2.1" fill="#ff0a20"/><rect x="108.2" y="164.5" width="2.1" height="2.1" fill="#ff0a20"/><rect x="110.2" y="164.5" width="2.1" height="2.1" fill="#ff0a20"/><rect x="112.2" y="164.5" width="2.1" height="2.1" fill="#ff0b21"/><rect x="114.2" y="164.5" width="2.1" height="2.1" fill="#ff1634"/><rect x="116.2" y="164.5" width="2.1" height="2.1" fill="#ff2e56"/><rect x="118.2" y="164.5" width="2.1" height="2.1" fill="#ff4675"/><rect x="120.2" y="164.5" width="2.1" height="2.1" fill="#ff5f8b"/><rect x="122.2" y="164.5" width="2.1" height="2.1" fill="#ff76a0"/><rect x="124.2" y="164.5" width="2.1" height="2.1" fill="#ff8fb4"/><rect x="126.2" y="164.5" width="2.1" height="2.1" fill="#ffa7c6"/><rect x="128.2" y="164.5" width="2.1" height="2.1" fill="#ffbbd6"/><rect x="130.2" y="164.5" width="2.1" height="2.1" fill="#ffcbe2"/><rect x="132.2" y="164.5" width="2.1" height="2.1" fill="#ffd6e8"/><rect x="134.2" y="164.5" width="2.1" height="2.1" fill="#ffe0ed"/><rect x="136.2" y="164.5" width="2.1" height="2.1" fill="#ffe8f1"/><rect x="138.2" y="164.5" width="2.1" height="2.1" fill="#ffeef5"/><rect x="140.2" y="164.5" width="2.1" height="2.1" fill="#fff2f7"/><rect x="142.2" y="164.5" width="2.1" height="2.1" fill="#fff4f8"/><rect x="144.2" y="164.5" width="2.1" height="2.1" fill="#fff6f9"/><rect x="146.2" y="164.5" width="2.1" height="2.1" fill="#fff8fb"/><rect x="148.2" y="164.5" width="2.1" height="2.1" fill="#fff9fc"/><rect x="150.2" y="164.5" width="2.1" height="2.1" fill="#fffbfd"/><rect x="152.2" y="164.5" width="2.1" height="2.1" fill="#fffdfe"/><rect x="156.2" y="164.5" width="2.1" height="2.1" fill="#fcfcff"/><rect x="158.2" y="164.5" width="2.1" height="2.1" fill="#fafaff"/><rect x="160.2" y="164.5" width="2.1" height="2.1" fill="#f7f7ff"/><rect x="162.2" y="164.5" width="2.1" height="2.1" fill="#f3f3ff"/><rect x="164.2" y="164.5" width="2.1" height="2.1" fill="#efefff"/><rect x="166.2" y="164.5" width="2.1" height="2.1" fill="#eaeaff"/><rect x="168.2" y="164.5" width="2.1" height="2.1" fill="#e4e4ff"/><rect x="170.2" y="164.5" width="2.1" height="2.1" fill="#d8daff"/><rect x="172.2" y="164.5" width="2.1" height="2.1" fill="#c6ccff"/><rect x="174.2" y="164.5" width="2.1" height="2.1" fill="#afbbff"/><rect x="176.2" y="164.5" width="2.1" height="2.1" fill="#92a5ff"/><rect x="178.2" y="164.5" width="2.1" height="2.1" fill="#6c89ff"/><rect x="180.2" y="164.5" width="2.1" height="2.1" fill="#4d6dff"/><rect x="182.2" y="164.5" width="2.1" height="2.1" fill="#3151ff"/><rect x="184.2" y="164.5" width="2.1" height="2.1" fill="#2041ff"/><rect x="186.2" y="164.5" width="2.1" height="2.1" fill="#1a3cff"/><rect x="188.2" y="164.5" width="2.1" height="2.1" fill="#1a3cff"/><rect x="190.2" y="164.5" width="2.1" height="2.1" fill="#1a3cff"/><rect x="192.2" y="164.5" width="2.1" height="2.1" fill="#1a3cff"/><rect x="194.2" y="164.5" width="2.1" height="2.1" fill="#1a3cff"/><rect x="104.2" y="166.5" width="2.1" height="2.1" fill="#ff0a20"/><rect x="106.2" y="166.5" width="2.1" height="2.1" fill="#ff0a20"/><rect x="108.2" y="166.5" width="2.1" height="2.1" fill="#ff0a20"/><rect x="110.2" y="166.5" width="2.1" height="2.1" fill="#ff0a20"/><rect x="112.2" y="166.5" width="2.1" height="2.1" fill="#ff0d25"/><rect x="114.2" y="166.5" width="2.1" height="2.1" fill="#ff1b3b"/><rect x="116.2" y="166.5" width="2.1" height="2.1" fill="#ff325c"/><rect x="118.2" y="166.5" width="2.1" height="2.1" fill="#ff4a79"/><rect x="120.2" y="166.5" width="2.1" height="2.1" fill="#ff638f"/><rect x="122.2" y="166.5" width="2.1" height="2.1" fill="#ff79a2"/><rect x="124.2" y="166.5" width="2.1" height="2.1" fill="#ff92b6"/><rect x="126.2" y="166.5" width="2.1" height="2.1" fill="#ffaac8"/><rect x="128.2" y="166.5" width="2.1" height="2.1" fill="#ffbdd7"/><rect x="130.2" y="166.5" width="2.1" height="2.1" fill="#ffcce2"/><rect x="132.2" y="166.5" width="2.1" height="2.1" fill="#ffd7e9"/><rect x="134.2" y="166.5" width="2.1" height="2.1" fill="#ffe1ee"/><rect x="136.2" y="166.5" width="2.1" height="2.1" fill="#ffe8f2"/><rect x="138.2" y="166.5" width="2.1" height="2.1" fill="#ffeff5"/><rect x="140.2" y="166.5" width="2.1" height="2.1" fill="#fff2f7"/><rect x="142.2" y="166.5" width="2.1" height="2.1" fill="#fff4f8"/><rect x="144.2" y="166.5" width="2.1" height="2.1" fill="#fff6fa"/><rect x="146.2" y="166.5" width="2.1" height="2.1" fill="#fff8fb"/><rect x="148.2" y="166.5" width="2.1" height="2.1" fill="#fffafc"/><rect x="150.2" y="166.5" width="2.1" height="2.1" fill="#fffbfd"/><rect x="152.2" y="166.5" width="2.1" height="2.1" fill="#fffdfe"/><rect x="156.2" y="166.5" width="2.1" height="2.1" fill="#fcfcff"/><rect x="158.2" y="166.5" width="2.1" height="2.1" fill="#fafaff"/><rect x="160.2" y="166.5" width="2.1" height="2.1" fill="#f7f7ff"/><rect x="162.2" y="166.5" width="2.1" height="2.1" fill="#f3f3ff"/><rect x="164.2" y="166.5" width="2.1" height="2.1" fill="#efefff"/><rect x="166.2" y="166.5" width="2.1" height="2.1" fill="#eaeaff"/><rect x="168.2" y="166.5" width="2.1" height="2.1" fill="#e4e4ff"/><rect x="170.2" y="166.5" width="2.1" height="2.1" fill="#d9dbff"/><rect x="172.2" y="166.5" width="2.1" height="2.1" fill="#c7ceff"/><rect x="174.2" y="166.5" width="2.1" height="2.1" fill="#b2bdff"/><rect x="176.2" y="166.5" width="2.1" height="2.1" fill="#96a8ff"/><rect x="178.2" y="166.5" width="2.1" height="2.1" fill="#718cff"/><rect x="180.2" y="166.5" width="2.1" height="2.1" fill="#5070ff"/><rect x="182.2" y="166.5" width="2.1" height="2.1" fill="#3555ff"/><rect x="184.2" y="166.5" width="2.1" height="2.1" fill="#2243ff"/><rect x="186.2" y="166.5" width="2.1" height="2.1" fill="#1a3cff"/><rect x="188.2" y="166.5" width="2.1" height="2.1" fill="#1a3cff"/><rect x="190.2" y="166.5" width="2.1" height="2.1" fill="#1a3cff"/><rect x="192.2" y="166.5" width="2.1" height="2.1" fill="#1a3cff"/><rect x="194.2" y="166.5" width="2.1" height="2.1" fill="#1a3cff"/><rect x="104.2" y="168.5" width="2.1" height="2.1" fill="#ff0a20"/><rect x="106.2" y="168.5" width="2.1" height="2.1" fill="#ff0a20"/><rect x="108.2" y="168.5" width="2.1" height="2.1" fill="#ff0a20"/><rect x="110.2" y="168.5" width="2.1" height="2.1" fill="#ff0a20"/><rect x="112.2" y="168.5" width="2.1" height="2.1" fill="#ff112b"/><rect x="114.2" y="168.5" width="2.1" height="2.1" fill="#ff2244"/><rect x="116.2" y="168.5" width="2.1" height="2.1" fill="#ff3864"/><rect x="118.2" y="168.5" width="2.1" height="2.1" fill="#ff507e"/><rect x="120.2" y="168.5" width="2.1" height="2.1" fill="#ff6792"/><rect x="122.2" y="168.5" width="2.1" height="2.1" fill="#ff7da5"/><rect x="124.2" y="168.5" width="2.1" height="2.1" fill="#ff96b9"/><rect x="126.2" y="168.5" width="2.1" height="2.1" fill="#ffadcb"/><rect x="128.2" y="168.5" width="2.1" height="2.1" fill="#ffc0da"/><rect x="130.2" y="168.5" width="2.1" height="2.1" fill="#ffcee3"/><rect x="132.2" y="168.5" width="2.1" height="2.1" fill="#ffd9e9"/><rect x="134.2" y="168.5" width="2.1" height="2.1" fill="#ffe2ee"/><rect x="136.2" y="168.5" width="2.1" height="2.1" fill="#ffe9f2"/><rect x="138.2" y="168.5" width="2.1" height="2.1" fill="#fff0f6"/><rect x="140.2" y="168.5" width="2.1" height="2.1" fill="#fff2f7"/><rect x="142.2" y="168.5" width="2.1" height="2.1" fill="#fff4f8"/><rect x="144.2" y="168.5" width="2.1" height="2.1" fill="#fff6fa"/><rect x="146.2" y="168.5" width="2.1" height="2.1" fill="#fff8fb"/><rect x="148.2" y="168.5" width="2.1" height="2.1" fill="#fffafc"/><rect x="150.2" y="168.5" width="2.1" height="2.1" fill="#fffbfd"/><rect x="152.2" y="168.5" width="2.1" height="2.1" fill="#fffdfe"/><rect x="156.2" y="168.5" width="2.1" height="2.1" fill="#fcfcff"/><rect x="158.2" y="168.5" width="2.1" height="2.1" fill="#fafaff"/><rect x="160.2" y="168.5" width="2.1" height="2.1" fill="#f7f7ff"/><rect x="162.2" y="168.5" width="2.1" height="2.1" fill="#f3f3ff"/><rect x="164.2" y="168.5" width="2.1" height="2.1" fill="#efefff"/><rect x="166.2" y="168.5" width="2.1" height="2.1" fill="#ebebff"/><rect x="168.2" y="168.5" width="2.1" height="2.1" fill="#e5e5ff"/><rect x="170.2" y="168.5" width="2.1" height="2.1" fill="#dbdcff"/><rect x="172.2" y="168.5" width="2.1" height="2.1" fill="#cacfff"/><rect x="174.2" y="168.5" width="2.1" height="2.1" fill="#b5bfff"/><rect x="176.2" y="168.5" width="2.1" height="2.1" fill="#9aacff"/><rect x="178.2" y="168.5" width="2.1" height="2.1" fill="#7791ff"/><rect x="180.2" y="168.5" width="2.1" height="2.1" fill="#5575ff"/><rect x="182.2" y="168.5" width="2.1" height="2.1" fill="#3b5bff"/><rect x="184.2" y="168.5" width="2.1" height="2.1" fill="#2545ff"/><rect x="186.2" y="168.5" width="2.1" height="2.1" fill="#1a3cff"/><rect x="188.2" y="168.5" width="2.1" height="2.1" fill="#1a3cff"/><rect x="190.2" y="168.5" width="2.1" height="2.1" fill="#1a3cff"/><rect x="192.2" y="168.5" width="2.1" height="2.1" fill="#1a3cff"/><rect x="194.2" y="168.5" width="2.1" height="2.1" fill="#1a3cff"/><rect x="104.2" y="170.5" width="2.1" height="2.1" fill="#ff0a20"/><rect x="106.2" y="170.5" width="2.1" height="2.1" fill="#ff0a20"/><rect x="108.2" y="170.5" width="2.1" height="2.1" fill="#ff0a20"/><rect x="110.2" y="170.5" width="2.1" height="2.1" fill="#ff0c24"/><rect x="112.2" y="170.5" width="2.1" height="2.1" fill="#ff1532"/><rect x="114.2" y="170.5" width="2.1" height="2.1" fill="#ff294f"/><rect x="116.2" y="170.5" width="2.1" height="2.1" fill="#ff3e6d"/><rect x="118.2" y="170.5" width="2.1" height="2.1" fill="#ff5683"/><rect x="120.2" y="170.5" width="2.1" height="2.1" fill="#ff6d97"/><rect x="122.2" y="170.5" width="2.1" height="2.1" fill="#ff82a9"/><rect x="124.2" y="170.5" width="2.1" height="2.1" fill="#ff9bbd"/><rect x="126.2" y="170.5" width="2.1" height="2.1" fill="#ffb1ce"/><rect x="128.2" y="170.5" width="2.1" height="2.1" fill="#ffc3dc"/><rect x="130.2" y="170.5" width="2.1" height="2.1" fill="#ffd0e5"/><rect x="132.2" y="170.5" width="2.1" height="2.1" fill="#ffdbea"/><rect x="134.2" y="170.5" width="2.1" height="2.1" fill="#ffe3ef"/><rect x="136.2" y="170.5" width="2.1" height="2.1" fill="#ffeaf3"/><rect x="138.2" y="170.5" width="2.1" height="2.1" fill="#fff0f6"/><rect x="140.2" y="170.5" width="2.1" height="2.1" fill="#fff2f7"/><rect x="142.2" y="170.5" width="2.1" height="2.1" fill="#fff4f9"/><rect x="144.2" y="170.5" width="2.1" height="2.1" fill="#fff6fa"/><rect x="146.2" y="170.5" width="2.1" height="2.1" fill="#fff8fb"/><rect x="148.2" y="170.5" width="2.1" height="2.1" fill="#fffafc"/><rect x="150.2" y="170.5" width="2.1" height="2.1" fill="#fffcfd"/><rect x="152.2" y="170.5" width="2.1" height="2.1" fill="#fffdfe"/><rect x="156.2" y="170.5" width="2.1" height="2.1" fill="#fcfcff"/><rect x="158.2" y="170.5" width="2.1" height="2.1" fill="#fafaff"/><rect x="160.2" y="170.5" width="2.1" height="2.1" fill="#f7f7ff"/><rect x="162.2" y="170.5" width="2.1" height="2.1" fill="#f4f4ff"/><rect x="164.2" y="170.5" width="2.1" height="2.1" fill="#f0f0ff"/><rect x="166.2" y="170.5" width="2.1" height="2.1" fill="#ebebff"/><rect x="168.2" y="170.5" width="2.1" height="2.1" fill="#e5e5ff"/><rect x="170.2" y="170.5" width="2.1" height="2.1" fill="#dddeff"/><rect x="172.2" y="170.5" width="2.1" height="2.1" fill="#ccd1ff"/><rect x="174.2" y="170.5" width="2.1" height="2.1" fill="#b8c2ff"/><rect x="176.2" y="170.5" width="2.1" height="2.1" fill="#a0b0ff"/><rect x="178.2" y="170.5" width="2.1" height="2.1" fill="#7e96ff"/><rect x="180.2" y="170.5" width="2.1" height="2.1" fill="#5b7bff"/><rect x="182.2" y="170.5" width="2.1" height="2.1" fill="#4161ff"/><rect x="184.2" y="170.5" width="2.1" height="2.1" fill="#2848ff"/><rect x="186.2" y="170.5" width="2.1" height="2.1" fill="#1e40ff"/><rect x="188.2" y="170.5" width="2.1" height="2.1" fill="#1a3cff"/><rect x="190.2" y="170.5" width="2.1" height="2.1" fill="#1a3cff"/><rect x="192.2" y="170.5" width="2.1" height="2.1" fill="#1a3cff"/><rect x="194.2" y="170.5" width="2.1" height="2.1" fill="#1a3cff"/><rect x="104.2" y="172.5" width="2.1" height="2.1" fill="#ff0a20"/><rect x="106.2" y="172.5" width="2.1" height="2.1" fill="#ff0a20"/><rect x="108.2" y="172.5" width="2.1" height="2.1" fill="#ff0b22"/><rect x="110.2" y="172.5" width="2.1" height="2.1" fill="#ff112c"/><rect x="112.2" y="172.5" width="2.1" height="2.1" fill="#ff1f40"/><rect x="114.2" y="172.5" width="2.1" height="2.1" fill="#ff325b"/><rect x="116.2" y="172.5" width="2.1" height="2.1" fill="#ff4676"/><rect x="118.2" y="172.5" width="2.1" height="2.1" fill="#ff5d8a"/><rect x="120.2" y="172.5" width="2.1" height="2.1" fill="#ff739c"/><rect x="122.2" y="172.5" width="2.1" height="2.1" fill="#ff89af"/><rect x="124.2" y="172.5" width="2.1" height="2.1" fill="#ffa1c2"/><rect x="126.2" y="172.5" width="2.1" height="2.1" fill="#ffb5d1"/><rect x="128.2" y="172.5" width="2.1" height="2.1" fill="#ffc6df"/><rect x="130.2" y="172.5" width="2.1" height="2.1" fill="#ffd3e6"/><rect x="132.2" y="172.5" width="2.1" height="2.1" fill="#ffddeb"/><rect x="134.2" y="172.5" width="2.1" height="2.1" fill="#ffe5f0"/><rect x="136.2" y="172.5" width="2.1" height="2.1" fill="#ffecf4"/><rect x="138.2" y="172.5" width="2.1" height="2.1" fill="#fff1f6"/><rect x="140.2" y="172.5" width="2.1" height="2.1" fill="#fff3f8"/><rect x="142.2" y="172.5" width="2.1" height="2.1" fill="#fff5f9"/><rect x="144.2" y="172.5" width="2.1" height="2.1" fill="#fff6fa"/><rect x="146.2" y="172.5" width="2.1" height="2.1" fill="#fff8fb"/><rect x="148.2" y="172.5" width="2.1" height="2.1" fill="#fffafc"/><rect x="150.2" y="172.5" width="2.1" height="2.1" fill="#fffcfd"/><rect x="152.2" y="172.5" width="2.1" height="2.1" fill="#fffdfe"/><rect x="156.2" y="172.5" width="2.1" height="2.1" fill="#fdfdff"/><rect x="158.2" y="172.5" width="2.1" height="2.1" fill="#fafaff"/><rect x="160.2" y="172.5" width="2.1" height="2.1" fill="#f7f7ff"/><rect x="162.2" y="172.5" width="2.1" height="2.1" fill="#f4f4ff"/><rect x="164.2" y="172.5" width="2.1" height="2.1" fill="#f0f0ff"/><rect x="166.2" y="172.5" width="2.1" height="2.1" fill="#ececff"/><rect x="168.2" y="172.5" width="2.1" height="2.1" fill="#e6e6ff"/><rect x="170.2" y="172.5" width="2.1" height="2.1" fill="#dfdfff"/><rect x="172.2" y="172.5" width="2.1" height="2.1" fill="#cfd4ff"/><rect x="174.2" y="172.5" width="2.1" height="2.1" fill="#bcc5ff"/><rect x="176.2" y="172.5" width="2.1" height="2.1" fill="#a5b4ff"/><rect x="178.2" y="172.5" width="2.1" height="2.1" fill="#869cff"/><rect x="180.2" y="172.5" width="2.1" height="2.1" fill="#6281ff"/><rect x="182.2" y="172.5" width="2.1" height="2.1" fill="#4969ff"/><rect x="184.2" y="172.5" width="2.1" height="2.1" fill="#3151ff"/><rect x="186.2" y="172.5" width="2.1" height="2.1" fill="#2243ff"/><rect x="188.2" y="172.5" width="2.1" height="2.1" fill="#1b3dff"/><rect x="190.2" y="172.5" width="2.1" height="2.1" fill="#1a3cff"/><rect x="192.2" y="172.5" width="2.1" height="2.1" fill="#1a3cff"/><rect x="194.2" y="172.5" width="2.1" height="2.1" fill="#1a3cff"/><rect x="104.2" y="174.5" width="2.1" height="2.1" fill="#ff0b22"/><rect x="106.2" y="174.5" width="2.1" height="2.1" fill="#ff0d25"/><rect x="108.2" y="174.5" width="2.1" height="2.1" fill="#ff112b"/><rect x="110.2" y="174.5" width="2.1" height="2.1" fill="#ff1a38"/><rect x="112.2" y="174.5" width="2.1" height="2.1" fill="#ff294f"/><rect x="114.2" y="174.5" width="2.1" height="2.1" fill="#ff3b69"/><rect x="116.2" y="174.5" width="2.1" height="2.1" fill="#ff507e"/><rect x="118.2" y="174.5" width="2.1" height="2.1" fill="#ff6591"/><rect x="120.2" y="174.5" width="2.1" height="2.1" fill="#ff79a2"/><rect x="122.2" y="174.5" width="2.1" height="2.1" fill="#ff90b5"/><rect x="124.2" y="174.5" width="2.1" height="2.1" fill="#ffa7c6"/><rect x="126.2" y="174.5" width="2.1" height="2.1" fill="#ffbad5"/><rect x="128.2" y="174.5" width="2.1" height="2.1" fill="#ffcae1"/><rect x="130.2" y="174.5" width="2.1" height="2.1" fill="#ffd5e7"/><rect x="132.2" y="174.5" width="2.1" height="2.1" fill="#ffdfec"/><rect x="134.2" y="174.5" width="2.1" height="2.1" fill="#ffe6f1"/><rect x="136.2" y="174.5" width="2.1" height="2.1" fill="#ffedf4"/><rect x="138.2" y="174.5" width="2.1" height="2.1" fill="#fff1f7"/><rect x="140.2" y="174.5" width="2.1" height="2.1" fill="#fff3f8"/><rect x="142.2" y="174.5" width="2.1" height="2.1" fill="#fff5f9"/><rect x="144.2" y="174.5" width="2.1" height="2.1" fill="#fff7fa"/><rect x="146.2" y="174.5" width="2.1" height="2.1" fill="#fff8fb"/><rect x="148.2" y="174.5" width="2.1" height="2.1" fill="#fffafc"/><rect x="150.2" y="174.5" width="2.1" height="2.1" fill="#fffcfd"/><rect x="152.2" y="174.5" width="2.1" height="2.1" fill="#fffdfe"/><rect x="156.2" y="174.5" width="2.1" height="2.1" fill="#fdfdff"/><rect x="158.2" y="174.5" width="2.1" height="2.1" fill="#fafaff"/><rect x="160.2" y="174.5" width="2.1" height="2.1" fill="#f7f7ff"/><rect x="162.2" y="174.5" width="2.1" height="2.1" fill="#f4f4ff"/><rect x="164.2" y="174.5" width="2.1" height="2.1" fill="#f1f1ff"/><rect x="166.2" y="174.5" width="2.1" height="2.1" fill="#ededff"/><rect x="168.2" y="174.5" width="2.1" height="2.1" fill="#e7e7ff"/><rect x="170.2" y="174.5" width="2.1" height="2.1" fill="#e1e1ff"/><rect x="172.2" y="174.5" width="2.1" height="2.1" fill="#d3d6ff"/><rect x="174.2" y="174.5" width="2.1" height="2.1" fill="#c1c8ff"/><rect x="176.2" y="174.5" width="2.1" height="2.1" fill="#abb8ff"/><rect x="178.2" y="174.5" width="2.1" height="2.1" fill="#8fa3ff"/><rect x="180.2" y="174.5" width="2.1" height="2.1" fill="#6d89ff"/><rect x="182.2" y="174.5" width="2.1" height="2.1" fill="#5171ff"/><rect x="184.2" y="174.5" width="2.1" height="2.1" fill="#3b5bff"/><rect x="186.2" y="174.5" width="2.1" height="2.1" fill="#2747ff"/><rect x="188.2" y="174.5" width="2.1" height="2.1" fill="#2041ff"/><rect x="190.2" y="174.5" width="2.1" height="2.1" fill="#1a3cff"/><rect x="192.2" y="174.5" width="2.1" height="2.1" fill="#1a3cff"/><rect x="194.2" y="174.5" width="2.1" height="2.1" fill="#1a3cff"/><rect x="104.2" y="176.5" width="2.1" height="2.1" fill="#ff122c"/><rect x="106.2" y="176.5" width="2.1" height="2.1" fill="#ff132f"/><rect x="108.2" y="176.5" width="2.1" height="2.1" fill="#ff1a39"/><rect x="110.2" y="176.5" width="2.1" height="2.1" fill="#ff264a"/><rect x="112.2" y="176.5" width="2.1" height="2.1" fill="#ff345f"/><rect x="114.2" y="176.5" width="2.1" height="2.1" fill="#ff4575"/><rect x="116.2" y="176.5" width="2.1" height="2.1" fill="#ff5a86"/><rect x="118.2" y="176.5" width="2.1" height="2.1" fill="#ff6d98"/><rect x="120.2" y="176.5" width="2.1" height="2.1" fill="#ff80a8"/><rect x="122.2" y="176.5" width="2.1" height="2.1" fill="#ff98bb"/><rect x="124.2" y="176.5" width="2.1" height="2.1" fill="#ffadcb"/><rect x="126.2" y="176.5" width="2.1" height="2.1" fill="#ffbfd9"/><rect x="128.2" y="176.5" width="2.1" height="2.1" fill="#ffcde3"/><rect x="130.2" y="176.5" width="2.1" height="2.1" fill="#ffd8e9"/><rect x="132.2" y="176.5" width="2.1" height="2.1" fill="#ffe1ee"/><rect x="134.2" y="176.5" width="2.1" height="2.1" fill="#ffe8f2"/><rect x="136.2" y="176.5" width="2.1" height="2.1" fill="#ffeef5"/><rect x="138.2" y="176.5" width="2.1" height="2.1" fill="#fff2f7"/><rect x="140.2" y="176.5" width="2.1" height="2.1" fill="#fff3f8"/><rect x="142.2" y="176.5" width="2.1" height="2.1" fill="#fff5f9"/><rect x="144.2" y="176.5" width="2.1" height="2.1" fill="#fff7fa"/><rect x="146.2" y="176.5" width="2.1" height="2.1" fill="#fff9fb"/><rect x="148.2" y="176.5" width="2.1" height="2.1" fill="#fffafc"/><rect x="150.2" y="176.5" width="2.1" height="2.1" fill="#fffcfd"/><rect x="152.2" y="176.5" width="2.1" height="2.1" fill="#fffdfe"/><rect x="156.2" y="176.5" width="2.1" height="2.1" fill="#fdfdff"/><rect x="158.2" y="176.5" width="2.1" height="2.1" fill="#fafaff"/><rect x="160.2" y="176.5" width="2.1" height="2.1" fill="#f8f8ff"/><rect x="162.2" y="176.5" width="2.1" height="2.1" fill="#f5f5ff"/><rect x="164.2" y="176.5" width="2.1" height="2.1" fill="#f1f1ff"/><rect x="166.2" y="176.5" width="2.1" height="2.1" fill="#ededff"/><rect x="168.2" y="176.5" width="2.1" height="2.1" fill="#e8e8ff"/><rect x="170.2" y="176.5" width="2.1" height="2.1" fill="#e2e2ff"/><rect x="172.2" y="176.5" width="2.1" height="2.1" fill="#d6d9ff"/><rect x="174.2" y="176.5" width="2.1" height="2.1" fill="#c5ccff"/><rect x="176.2" y="176.5" width="2.1" height="2.1" fill="#b1bdff"/><rect x="178.2" y="176.5" width="2.1" height="2.1" fill="#98aaff"/><rect x="180.2" y="176.5" width="2.1" height="2.1" fill="#7892ff"/><rect x="182.2" y="176.5" width="2.1" height="2.1" fill="#5a7aff"/><rect x="184.2" y="176.5" width="2.1" height="2.1" fill="#4565ff"/><rect x="186.2" y="176.5" width="2.1" height="2.1" fill="#3151ff"/><rect x="188.2" y="176.5" width="2.1" height="2.1" fill="#2545ff"/><rect x="190.2" y="176.5" width="2.1" height="2.1" fill="#2041ff"/><rect x="192.2" y="176.5" width="2.1" height="2.1" fill="#1e3fff"/><rect x="194.2" y="176.5" width="2.1" height="2.1" fill="#1e3fff"/><rect x="104.2" y="178.5" width="2.1" height="2.1" fill="#ff1d3d"/><rect x="106.2" y="178.5" width="2.1" height="2.1" fill="#ff2042"/><rect x="108.2" y="178.5" width="2.1" height="2.1" fill="#ff274c"/><rect x="110.2" y="178.5" width="2.1" height="2.1" fill="#ff325c"/><rect x="112.2" y="178.5" width="2.1" height="2.1" fill="#ff3f6f"/><rect x="114.2" y="178.5" width="2.1" height="2.1" fill="#ff517f"/><rect x="116.2" y="178.5" width="2.1" height="2.1" fill="#ff648f"/><rect x="118.2" y="178.5" width="2.1" height="2.1" fill="#ff769f"/><rect x="120.2" y="178.5" width="2.1" height="2.1" fill="#ff8ab0"/><rect x="122.2" y="178.5" width="2.1" height="2.1" fill="#ffa0c1"/><rect x="124.2" y="178.5" width="2.1" height="2.1" fill="#ffb4d0"/><rect x="126.2" y="178.5" width="2.1" height="2.1" fill="#ffc4dd"/><rect x="128.2" y="178.5" width="2.1" height="2.1" fill="#ffd1e5"/><rect x="130.2" y="178.5" width="2.1" height="2.1" fill="#ffdbea"/><rect x="132.2" y="178.5" width="2.1" height="2.1" fill="#ffe3ef"/><rect x="134.2" y="178.5" width="2.1" height="2.1" fill="#ffeaf3"/><rect x="136.2" y="178.5" width="2.1" height="2.1" fill="#fff0f6"/><rect x="138.2" y="178.5" width="2.1" height="2.1" fill="#fff2f7"/><rect x="140.2" y="178.5" width="2.1" height="2.1" fill="#fff4f8"/><rect x="142.2" y="178.5" width="2.1" height="2.1" fill="#fff6f9"/><rect x="144.2" y="178.5" width="2.1" height="2.1" fill="#fff7fa"/><rect x="146.2" y="178.5" width="2.1" height="2.1" fill="#fff9fb"/><rect x="148.2" y="178.5" width="2.1" height="2.1" fill="#fffafc"/><rect x="150.2" y="178.5" width="2.1" height="2.1" fill="#fffcfd"/><rect x="152.2" y="178.5" width="2.1" height="2.1" fill="#fffdfe"/><rect x="156.2" y="178.5" width="2.1" height="2.1" fill="#fdfdff"/><rect x="158.2" y="178.5" width="2.1" height="2.1" fill="#fafaff"/><rect x="160.2" y="178.5" width="2.1" height="2.1" fill="#f8f8ff"/><rect x="162.2" y="178.5" width="2.1" height="2.1" fill="#f5f5ff"/><rect x="164.2" y="178.5" width="2.1" height="2.1" fill="#f2f2ff"/><rect x="166.2" y="178.5" width="2.1" height="2.1" fill="#eeeeff"/><rect x="168.2" y="178.5" width="2.1" height="2.1" fill="#e9e9ff"/><rect x="170.2" y="178.5" width="2.1" height="2.1" fill="#e4e4ff"/><rect x="172.2" y="178.5" width="2.1" height="2.1" fill="#dadbff"/><rect x="174.2" y="178.5" width="2.1" height="2.1" fill="#cacfff"/><rect x="176.2" y="178.5" width="2.1" height="2.1" fill="#b7c1ff"/><rect x="178.2" y="178.5" width="2.1" height="2.1" fill="#a1b1ff"/><rect x="180.2" y="178.5" width="2.1" height="2.1" fill="#849bff"/><rect x="182.2" y="178.5" width="2.1" height="2.1" fill="#6483ff"/><rect x="184.2" y="178.5" width="2.1" height="2.1" fill="#4f6fff"/><rect x="186.2" y="178.5" width="2.1" height="2.1" fill="#3d5dff"/><rect x="188.2" y="178.5" width="2.1" height="2.1" fill="#2e4eff"/><rect x="190.2" y="178.5" width="2.1" height="2.1" fill="#2646ff"/><rect x="192.2" y="178.5" width="2.1" height="2.1" fill="#2444ff"/><rect x="194.2" y="178.5" width="2.1" height="2.1" fill="#2445ff"/><rect x="104.2" y="180.5" width="2.1" height="2.1" fill="#ff2b52"/><rect x="106.2" y="180.5" width="2.1" height="2.1" fill="#ff2e56"/><rect x="108.2" y="180.5" width="2.1" height="2.1" fill="#ff345f"/><rect x="110.2" y="180.5" width="2.1" height="2.1" fill="#ff3e6d"/><rect x="112.2" y="180.5" width="2.1" height="2.1" fill="#ff4c7b"/><rect x="114.2" y="180.5" width="2.1" height="2.1" fill="#ff5c89"/><rect x="116.2" y="180.5" width="2.1" height="2.1" fill="#ff6d98"/><rect x="118.2" y="180.5" width="2.1" height="2.1" fill="#ff7ea6"/><rect x="120.2" y="180.5" width="2.1" height="2.1" fill="#ff94b8"/><rect x="122.2" y="180.5" width="2.1" height="2.1" fill="#ffa8c7"/><rect x="124.2" y="180.5" width="2.1" height="2.1" fill="#ffbad5"/><rect x="126.2" y="180.5" width="2.1" height="2.1" fill="#ffc9e1"/><rect x="128.2" y="180.5" width="2.1" height="2.1" fill="#ffd4e7"/><rect x="130.2" y="180.5" width="2.1" height="2.1" fill="#ffdeec"/><rect x="132.2" y="180.5" width="2.1" height="2.1" fill="#ffe5f0"/><rect x="134.2" y="180.5" width="2.1" height="2.1" fill="#ffecf4"/><rect x="136.2" y="180.5" width="2.1" height="2.1" fill="#fff1f6"/><rect x="138.2" y="180.5" width="2.1" height="2.1" fill="#fff2f7"/><rect x="140.2" y="180.5" width="2.1" height="2.1" fill="#fff4f9"/><rect x="142.2" y="180.5" width="2.1" height="2.1" fill="#fff6fa"/><rect x="144.2" y="180.5" width="2.1" height="2.1" fill="#fff7fa"/><rect x="146.2" y="180.5" width="2.1" height="2.1" fill="#fff9fb"/><rect x="148.2" y="180.5" width="2.1" height="2.1" fill="#fffbfc"/><rect x="150.2" y="180.5" width="2.1" height="2.1" fill="#fffcfd"/><rect x="152.2" y="180.5" width="2.1" height="2.1" fill="#fffefe"/><rect x="156.2" y="180.5" width="2.1" height="2.1" fill="#fdfdff"/><rect x="158.2" y="180.5" width="2.1" height="2.1" fill="#fbfbff"/><rect x="160.2" y="180.5" width="2.1" height="2.1" fill="#f8f8ff"/><rect x="162.2" y="180.5" width="2.1" height="2.1" fill="#f6f6ff"/><rect x="164.2" y="180.5" width="2.1" height="2.1" fill="#f2f2ff"/><rect x="166.2" y="180.5" width="2.1" height="2.1" fill="#efefff"/><rect x="168.2" y="180.5" width="2.1" height="2.1" fill="#eaeaff"/><rect x="170.2" y="180.5" width="2.1" height="2.1" fill="#e5e5ff"/><rect x="172.2" y="180.5" width="2.1" height="2.1" fill="#dddeff"/><rect x="174.2" y="180.5" width="2.1" height="2.1" fill="#ced3ff"/><rect x="176.2" y="180.5" width="2.1" height="2.1" fill="#bdc6ff"/><rect x="178.2" y="180.5" width="2.1" height="2.1" fill="#a9b6ff"/><rect x="180.2" y="180.5" width="2.1" height="2.1" fill="#8fa3ff"/><rect x="182.2" y="180.5" width="2.1" height="2.1" fill="#728eff"/><rect x="184.2" y="180.5" width="2.1" height="2.1" fill="#5979ff"/><rect x="186.2" y="180.5" width="2.1" height="2.1" fill="#4969ff"/><rect x="188.2" y="180.5" width="2.1" height="2.1" fill="#3b5bff"/><rect x="190.2" y="180.5" width="2.1" height="2.1" fill="#3151ff"/><rect x="192.2" y="180.5" width="2.1" height="2.1" fill="#2c4cff"/><rect x="194.2" y="180.5" width="2.1" height="2.1" fill="#2d4dff"/><rect x="104.2" y="182.5" width="2.1" height="2.1" fill="#ff3966"/><rect x="106.2" y="182.5" width="2.1" height="2.1" fill="#ff3b69"/><rect x="108.2" y="182.5" width="2.1" height="2.1" fill="#ff4171"/><rect x="110.2" y="182.5" width="2.1" height="2.1" fill="#ff4c7a"/><rect x="112.2" y="182.5" width="2.1" height="2.1" fill="#ff5986"/><rect x="114.2" y="182.5" width="2.1" height="2.1" fill="#ff6792"/><rect x="116.2" y="182.5" width="2.1" height="2.1" fill="#ff77a0"/><rect x="118.2" y="182.5" width="2.1" height="2.1" fill="#ff89af"/><rect x="120.2" y="182.5" width="2.1" height="2.1" fill="#ff9dbf"/><rect x="122.2" y="182.5" width="2.1" height="2.1" fill="#ffb0cd"/><rect x="124.2" y="182.5" width="2.1" height="2.1" fill="#ffc0da"/><rect x="126.2" y="182.5" width="2.1" height="2.1" fill="#ffcee3"/><rect x="128.2" y="182.5" width="2.1" height="2.1" fill="#ffd8e9"/><rect x="130.2" y="182.5" width="2.1" height="2.1" fill="#ffe0ed"/><rect x="132.2" y="182.5" width="2.1" height="2.1" fill="#ffe7f1"/><rect x="134.2" y="182.5" width="2.1" height="2.1" fill="#ffedf5"/><rect x="136.2" y="182.5" width="2.1" height="2.1" fill="#fff1f7"/><rect x="138.2" y="182.5" width="2.1" height="2.1" fill="#fff3f8"/><rect x="140.2" y="182.5" width="2.1" height="2.1" fill="#fff5f9"/><rect x="142.2" y="182.5" width="2.1" height="2.1" fill="#fff6fa"/><rect x="144.2" y="182.5" width="2.1" height="2.1" fill="#fff8fb"/><rect x="146.2" y="182.5" width="2.1" height="2.1" fill="#fff9fc"/><rect x="148.2" y="182.5" width="2.1" height="2.1" fill="#fffbfc"/><rect x="150.2" y="182.5" width="2.1" height="2.1" fill="#fffcfd"/><rect x="152.2" y="182.5" width="2.1" height="2.1" fill="#fffefe"/><rect x="156.2" y="182.5" width="2.1" height="2.1" fill="#fdfdff"/><rect x="158.2" y="182.5" width="2.1" height="2.1" fill="#fbfbff"/><rect x="160.2" y="182.5" width="2.1" height="2.1" fill="#f9f9ff"/><rect x="162.2" y="182.5" width="2.1" height="2.1" fill="#f6f6ff"/><rect x="164.2" y="182.5" width="2.1" height="2.1" fill="#f3f3ff"/><rect x="166.2" y="182.5" width="2.1" height="2.1" fill="#f0f0ff"/><rect x="168.2" y="182.5" width="2.1" height="2.1" fill="#ebebff"/><rect x="170.2" y="182.5" width="2.1" height="2.1" fill="#e6e6ff"/><rect x="172.2" y="182.5" width="2.1" height="2.1" fill="#e0e0ff"/><rect x="174.2" y="182.5" width="2.1" height="2.1" fill="#d3d6ff"/><rect x="176.2" y="182.5" width="2.1" height="2.1" fill="#c3caff"/><rect x="178.2" y="182.5" width="2.1" height="2.1" fill="#b0bcff"/><rect x="180.2" y="182.5" width="2.1" height="2.1" fill="#9aacff"/><rect x="182.2" y="182.5" width="2.1" height="2.1" fill="#8098ff"/><rect x="184.2" y="182.5" width="2.1" height="2.1" fill="#6584ff"/><rect x="186.2" y="182.5" width="2.1" height="2.1" fill="#5474ff"/><rect x="188.2" y="182.5" width="2.1" height="2.1" fill="#4767ff"/><rect x="190.2" y="182.5" width="2.1" height="2.1" fill="#3e5eff"/><rect x="192.2" y="182.5" width="2.1" height="2.1" fill="#3a5aff"/><rect x="194.2" y="182.5" width="2.1" height="2.1" fill="#3b5bff"/><rect x="104.2" y="184.5" width="2.1" height="2.1" fill="#ff4776"/><rect x="106.2" y="184.5" width="2.1" height="2.1" fill="#ff4978"/><rect x="108.2" y="184.5" width="2.1" height="2.1" fill="#ff4f7d"/><rect x="110.2" y="184.5" width="2.1" height="2.1" fill="#ff5986"/><rect x="112.2" y="184.5" width="2.1" height="2.1" fill="#ff6490"/><rect x="114.2" y="184.5" width="2.1" height="2.1" fill="#ff729c"/><rect x="116.2" y="184.5" width="2.1" height="2.1" fill="#ff80a8"/><rect x="118.2" y="184.5" width="2.1" height="2.1" fill="#ff94b7"/><rect x="120.2" y="184.5" width="2.1" height="2.1" fill="#ffa6c6"/><rect x="122.2" y="184.5" width="2.1" height="2.1" fill="#ffb7d3"/><rect x="124.2" y="184.5" width="2.1" height="2.1" fill="#ffc6df"/><rect x="126.2" y="184.5" width="2.1" height="2.1" fill="#ffd2e5"/><rect x="128.2" y="184.5" width="2.1" height="2.1" fill="#ffdbea"/><rect x="130.2" y="184.5" width="2.1" height="2.1" fill="#ffe3ef"/><rect x="132.2" y="184.5" width="2.1" height="2.1" fill="#ffe9f2"/><rect x="134.2" y="184.5" width="2.1" height="2.1" fill="#ffeff5"/><rect x="136.2" y="184.5" width="2.1" height="2.1" fill="#fff2f7"/><rect x="138.2" y="184.5" width="2.1" height="2.1" fill="#fff3f8"/><rect x="140.2" y="184.5" width="2.1" height="2.1" fill="#fff5f9"/><rect x="142.2" y="184.5" width="2.1" height="2.1" fill="#fff7fa"/><rect x="144.2" y="184.5" width="2.1" height="2.1" fill="#fff8fb"/><rect x="146.2" y="184.5" width="2.1" height="2.1" fill="#fff9fc"/><rect x="148.2" y="184.5" width="2.1" height="2.1" fill="#fffbfc"/><rect x="150.2" y="184.5" width="2.1" height="2.1" fill="#fffcfd"/><rect x="152.2" y="184.5" width="2.1" height="2.1" fill="#fffefe"/><rect x="156.2" y="184.5" width="2.1" height="2.1" fill="#fdfdff"/><rect x="158.2" y="184.5" width="2.1" height="2.1" fill="#fbfbff"/><rect x="160.2" y="184.5" width="2.1" height="2.1" fill="#f9f9ff"/><rect x="162.2" y="184.5" width="2.1" height="2.1" fill="#f6f6ff"/><rect x="164.2" y="184.5" width="2.1" height="2.1" fill="#f3f3ff"/><rect x="166.2" y="184.5" width="2.1" height="2.1" fill="#f0f0ff"/><rect x="168.2" y="184.5" width="2.1" height="2.1" fill="#ececff"/><rect x="170.2" y="184.5" width="2.1" height="2.1" fill="#e8e8ff"/><rect x="172.2" y="184.5" width="2.1" height="2.1" fill="#e2e2ff"/><rect x="174.2" y="184.5" width="2.1" height="2.1" fill="#d7d9ff"/><rect x="176.2" y="184.5" width="2.1" height="2.1" fill="#c8ceff"/><rect x="178.2" y="184.5" width="2.1" height="2.1" fill="#b7c1ff"/><rect x="180.2" y="184.5" width="2.1" height="2.1" fill="#a4b3ff"/><rect x="182.2" y="184.5" width="2.1" height="2.1" fill="#8da1ff"/><rect x="184.2" y="184.5" width="2.1" height="2.1" fill="#748fff"/><rect x="186.2" y="184.5" width="2.1" height="2.1" fill="#5f7fff"/><rect x="188.2" y="184.5" width="2.1" height="2.1" fill="#5373ff"/><rect x="190.2" y="184.5" width="2.1" height="2.1" fill="#4b6bff"/><rect x="192.2" y="184.5" width="2.1" height="2.1" fill="#4767ff"/><rect x="194.2" y="184.5" width="2.1" height="2.1" fill="#4868ff"/><rect x="104.2" y="186.5" width="2.1" height="2.1" fill="#ff5582"/><rect x="106.2" y="186.5" width="2.1" height="2.1" fill="#ff5784"/><rect x="108.2" y="186.5" width="2.1" height="2.1" fill="#ff5c89"/><rect x="110.2" y="186.5" width="2.1" height="2.1" fill="#ff6590"/><rect x="112.2" y="186.5" width="2.1" height="2.1" fill="#ff709a"/><rect x="114.2" y="186.5" width="2.1" height="2.1" fill="#ff7ca4"/><rect x="116.2" y="186.5" width="2.1" height="2.1" fill="#ff8cb1"/><rect x="118.2" y="186.5" width="2.1" height="2.1" fill="#ff9ebf"/><rect x="120.2" y="186.5" width="2.1" height="2.1" fill="#ffafcc"/><rect x="122.2" y="186.5" width="2.1" height="2.1" fill="#ffbed8"/><rect x="124.2" y="186.5" width="2.1" height="2.1" fill="#ffcbe2"/><rect x="126.2" y="186.5" width="2.1" height="2.1" fill="#ffd5e7"/><rect x="128.2" y="186.5" width="2.1" height="2.1" fill="#ffdeec"/><rect x="130.2" y="186.5" width="2.1" height="2.1" fill="#ffe5f0"/><rect x="132.2" y="186.5" width="2.1" height="2.1" fill="#ffebf3"/><rect x="134.2" y="186.5" width="2.1" height="2.1" fill="#fff0f6"/><rect x="136.2" y="186.5" width="2.1" height="2.1" fill="#fff2f7"/><rect x="138.2" y="186.5" width="2.1" height="2.1" fill="#fff4f8"/><rect x="140.2" y="186.5" width="2.1" height="2.1" fill="#fff5f9"/><rect x="142.2" y="186.5" width="2.1" height="2.1" fill="#fff7fa"/><rect x="144.2" y="186.5" width="2.1" height="2.1" fill="#fff8fb"/><rect x="146.2" y="186.5" width="2.1" height="2.1" fill="#fffafc"/><rect x="148.2" y="186.5" width="2.1" height="2.1" fill="#fffbfd"/><rect x="150.2" y="186.5" width="2.1" height="2.1" fill="#fffcfd"/><rect x="152.2" y="186.5" width="2.1" height="2.1" fill="#fffefe"/><rect x="156.2" y="186.5" width="2.1" height="2.1" fill="#fdfdff"/><rect x="158.2" y="186.5" width="2.1" height="2.1" fill="#fbfbff"/><rect x="160.2" y="186.5" width="2.1" height="2.1" fill="#f9f9ff"/><rect x="162.2" y="186.5" width="2.1" height="2.1" fill="#f7f7ff"/><rect x="164.2" y="186.5" width="2.1" height="2.1" fill="#f4f4ff"/><rect x="166.2" y="186.5" width="2.1" height="2.1" fill="#f1f1ff"/><rect x="168.2" y="186.5" width="2.1" height="2.1" fill="#ededff"/><rect x="170.2" y="186.5" width="2.1" height="2.1" fill="#e9e9ff"/><rect x="172.2" y="186.5" width="2.1" height="2.1" fill="#e4e4ff"/><rect x="174.2" y="186.5" width="2.1" height="2.1" fill="#dbdcff"/><rect x="176.2" y="186.5" width="2.1" height="2.1" fill="#cdd2ff"/><rect x="178.2" y="186.5" width="2.1" height="2.1" fill="#bdc6ff"/><rect x="180.2" y="186.5" width="2.1" height="2.1" fill="#acb9ff"/><rect x="182.2" y="186.5" width="2.1" height="2.1" fill="#98aaff"/><rect x="184.2" y="186.5" width="2.1" height="2.1" fill="#829aff"/><rect x="186.2" y="186.5" width="2.1" height="2.1" fill="#6e8aff"/><rect x="188.2" y="186.5" width="2.1" height="2.1" fill="#5e7eff"/><rect x="190.2" y="186.5" width="2.1" height="2.1" fill="#5676ff"/><rect x="192.2" y="186.5" width="2.1" height="2.1" fill="#5373ff"/><rect x="194.2" y="186.5" width="2.1" height="2.1" fill="#5474ff"/><rect x="104.2" y="188.5" width="2.1" height="2.1" fill="#ff628e"/><rect x="106.2" y="188.5" width="2.1" height="2.1" fill="#ff638f"/><rect x="108.2" y="188.5" width="2.1" height="2.1" fill="#ff6893"/><rect x="110.2" y="188.5" width="2.1" height="2.1" fill="#ff709a"/><rect x="112.2" y="188.5" width="2.1" height="2.1" fill="#ff7aa2"/><rect x="114.2" y="188.5" width="2.1" height="2.1" fill="#ff86ad"/><rect x="116.2" y="188.5" width="2.1" height="2.1" fill="#ff97ba"/><rect x="118.2" y="188.5" width="2.1" height="2.1" fill="#ffa7c6"/><rect x="120.2" y="188.5" width="2.1" height="2.1" fill="#ffb6d2"/><rect x="122.2" y="188.5" width="2.1" height="2.1" fill="#ffc5dd"/><rect x="124.2" y="188.5" width="2.1" height="2.1" fill="#ffd0e4"/><rect x="126.2" y="188.5" width="2.1" height="2.1" fill="#ffd9e9"/><rect x="128.2" y="188.5" width="2.1" height="2.1" fill="#ffe1ee"/><rect x="130.2" y="188.5" width="2.1" height="2.1" fill="#ffe7f1"/><rect x="132.2" y="188.5" width="2.1" height="2.1" fill="#ffedf4"/><rect x="134.2" y="188.5" width="2.1" height="2.1" fill="#fff1f6"/><rect x="136.2" y="188.5" width="2.1" height="2.1" fill="#fff3f8"/><rect x="138.2" y="188.5" width="2.1" height="2.1" fill="#fff4f9"/><rect x="140.2" y="188.5" width="2.1" height="2.1" fill="#fff6f9"/><rect x="142.2" y="188.5" width="2.1" height="2.1" fill="#fff7fa"/><rect x="144.2" y="188.5" width="2.1" height="2.1" fill="#fff8fb"/><rect x="146.2" y="188.5" width="2.1" height="2.1" fill="#fffafc"/><rect x="148.2" y="188.5" width="2.1" height="2.1" fill="#fffbfd"/><rect x="150.2" y="188.5" width="2.1" height="2.1" fill="#fffcfd"/><rect x="152.2" y="188.5" width="2.1" height="2.1" fill="#fffefe"/><rect x="156.2" y="188.5" width="2.1" height="2.1" fill="#fdfdff"/><rect x="158.2" y="188.5" width="2.1" height="2.1" fill="#fbfbff"/><rect x="160.2" y="188.5" width="2.1" height="2.1" fill="#f9f9ff"/><rect x="162.2" y="188.5" width="2.1" height="2.1" fill="#f7f7ff"/><rect x="164.2" y="188.5" width="2.1" height="2.1" fill="#f4f4ff"/><rect x="166.2" y="188.5" width="2.1" height="2.1" fill="#f1f1ff"/><rect x="168.2" y="188.5" width="2.1" height="2.1" fill="#eeeeff"/><rect x="170.2" y="188.5" width="2.1" height="2.1" fill="#eaeaff"/><rect x="172.2" y="188.5" width="2.1" height="2.1" fill="#e5e5ff"/><rect x="174.2" y="188.5" width="2.1" height="2.1" fill="#dfdfff"/><rect x="176.2" y="188.5" width="2.1" height="2.1" fill="#d2d5ff"/><rect x="178.2" y="188.5" width="2.1" height="2.1" fill="#c3cbff"/><rect x="180.2" y="188.5" width="2.1" height="2.1" fill="#b3bfff"/><rect x="182.2" y="188.5" width="2.1" height="2.1" fill="#a3b2ff"/><rect x="184.2" y="188.5" width="2.1" height="2.1" fill="#8fa3ff"/><rect x="186.2" y="188.5" width="2.1" height="2.1" fill="#7c95ff"/><rect x="188.2" y="188.5" width="2.1" height="2.1" fill="#6d8aff"/><rect x="190.2" y="188.5" width="2.1" height="2.1" fill="#6282ff"/><rect x="192.2" y="188.5" width="2.1" height="2.1" fill="#5e7eff"/><rect x="194.2" y="188.5" width="2.1" height="2.1" fill="#5f7fff"/><rect x="104.2" y="190.5" width="2.1" height="2.1" fill="#ff6d98"/><rect x="106.2" y="190.5" width="2.1" height="2.1" fill="#ff6f99"/><rect x="108.2" y="190.5" width="2.1" height="2.1" fill="#ff739d"/><rect x="110.2" y="190.5" width="2.1" height="2.1" fill="#ff7aa3"/><rect x="112.2" y="190.5" width="2.1" height="2.1" fill="#ff84ab"/><rect x="114.2" y="190.5" width="2.1" height="2.1" fill="#ff92b6"/><rect x="116.2" y="190.5" width="2.1" height="2.1" fill="#ffa1c1"/><rect x="118.2" y="190.5" width="2.1" height="2.1" fill="#ffafcd"/><rect x="120.2" y="190.5" width="2.1" height="2.1" fill="#ffbdd8"/><rect x="122.2" y="190.5" width="2.1" height="2.1" fill="#ffcae1"/><rect x="124.2" y="190.5" width="2.1" height="2.1" fill="#ffd4e6"/><rect x="126.2" y="190.5" width="2.1" height="2.1" fill="#ffdceb"/><rect x="128.2" y="190.5" width="2.1" height="2.1" fill="#ffe3ef"/><rect x="130.2" y="190.5" width="2.1" height="2.1" fill="#ffe9f2"/><rect x="132.2" y="190.5" width="2.1" height="2.1" fill="#ffeff5"/><rect x="134.2" y="190.5" width="2.1" height="2.1" fill="#fff1f7"/><rect x="136.2" y="190.5" width="2.1" height="2.1" fill="#fff3f8"/><rect x="138.2" y="190.5" width="2.1" height="2.1" fill="#fff5f9"/><rect x="140.2" y="190.5" width="2.1" height="2.1" fill="#fff6fa"/><rect x="142.2" y="190.5" width="2.1" height="2.1" fill="#fff7fa"/><rect x="144.2" y="190.5" width="2.1" height="2.1" fill="#fff9fb"/><rect x="146.2" y="190.5" width="2.1" height="2.1" fill="#fffafc"/><rect x="148.2" y="190.5" width="2.1" height="2.1" fill="#fffbfd"/><rect x="150.2" y="190.5" width="2.1" height="2.1" fill="#fffcfd"/><rect x="152.2" y="190.5" width="2.1" height="2.1" fill="#fffefe"/><rect x="156.2" y="190.5" width="2.1" height="2.1" fill="#fdfdff"/><rect x="158.2" y="190.5" width="2.1" height="2.1" fill="#fbfbff"/><rect x="160.2" y="190.5" width="2.1" height="2.1" fill="#f9f9ff"/><rect x="162.2" y="190.5" width="2.1" height="2.1" fill="#f7f7ff"/><rect x="164.2" y="190.5" width="2.1" height="2.1" fill="#f5f5ff"/><rect x="166.2" y="190.5" width="2.1" height="2.1" fill="#f2f2ff"/><rect x="168.2" y="190.5" width="2.1" height="2.1" fill="#efefff"/><rect x="170.2" y="190.5" width="2.1" height="2.1" fill="#ebebff"/><rect x="172.2" y="190.5" width="2.1" height="2.1" fill="#e6e6ff"/><rect x="174.2" y="190.5" width="2.1" height="2.1" fill="#e1e1ff"/><rect x="176.2" y="190.5" width="2.1" height="2.1" fill="#d6d9ff"/><rect x="178.2" y="190.5" width="2.1" height="2.1" fill="#c9cfff"/><rect x="180.2" y="190.5" width="2.1" height="2.1" fill="#bac4ff"/><rect x="182.2" y="190.5" width="2.1" height="2.1" fill="#abb8ff"/><rect x="184.2" y="190.5" width="2.1" height="2.1" fill="#9aacff"/><rect x="186.2" y="190.5" width="2.1" height="2.1" fill="#899fff"/><rect x="188.2" y="190.5" width="2.1" height="2.1" fill="#7b94ff"/><rect x="190.2" y="190.5" width="2.1" height="2.1" fill="#718dff"/><rect x="192.2" y="190.5" width="2.1" height="2.1" fill="#6d8aff"/><rect x="194.2" y="190.5" width="2.1" height="2.1" fill="#6e8bff"/><rect x="104.2" y="192.5" width="2.1" height="2.1" fill="#ff77a1"/><rect x="106.2" y="192.5" width="2.1" height="2.1" fill="#ff79a2"/><rect x="108.2" y="192.5" width="2.1" height="2.1" fill="#ff7da5"/><rect x="110.2" y="192.5" width="2.1" height="2.1" fill="#ff84ab"/><rect x="112.2" y="192.5" width="2.1" height="2.1" fill="#ff8fb4"/><rect x="114.2" y="192.5" width="2.1" height="2.1" fill="#ff9cbe"/><rect x="116.2" y="192.5" width="2.1" height="2.1" fill="#ffa9c8"/><rect x="118.2" y="192.5" width="2.1" height="2.1" fill="#ffb7d2"/><rect x="120.2" y="192.5" width="2.1" height="2.1" fill="#ffc3dc"/><rect x="122.2" y="192.5" width="2.1" height="2.1" fill="#ffcee3"/><rect x="124.2" y="192.5" width="2.1" height="2.1" fill="#ffd7e8"/><rect x="126.2" y="192.5" width="2.1" height="2.1" fill="#ffdfec"/><rect x="128.2" y="192.5" width="2.1" height="2.1" fill="#ffe5f0"/><rect x="130.2" y="192.5" width="2.1" height="2.1" fill="#ffebf3"/><rect x="132.2" y="192.5" width="2.1" height="2.1" fill="#fff0f6"/><rect x="134.2" y="192.5" width="2.1" height="2.1" fill="#fff2f7"/><rect x="136.2" y="192.5" width="2.1" height="2.1" fill="#fff3f8"/><rect x="138.2" y="192.5" width="2.1" height="2.1" fill="#fff5f9"/><rect x="140.2" y="192.5" width="2.1" height="2.1" fill="#fff6fa"/><rect x="142.2" y="192.5" width="2.1" height="2.1" fill="#fff7fa"/><rect x="144.2" y="192.5" width="2.1" height="2.1" fill="#fff9fb"/><rect x="146.2" y="192.5" width="2.1" height="2.1" fill="#fffafc"/><rect x="148.2" y="192.5" width="2.1" height="2.1" fill="#fffbfd"/><rect x="150.2" y="192.5" width="2.1" height="2.1" fill="#fffcfd"/><rect x="152.2" y="192.5" width="2.1" height="2.1" fill="#fffefe"/><rect x="156.2" y="192.5" width="2.1" height="2.1" fill="#fdfdff"/><rect x="158.2" y="192.5" width="2.1" height="2.1" fill="#fbfbff"/><rect x="160.2" y="192.5" width="2.1" height="2.1" fill="#fafaff"/><rect x="162.2" y="192.5" width="2.1" height="2.1" fill="#f7f7ff"/><rect x="164.2" y="192.5" width="2.1" height="2.1" fill="#f5f5ff"/><rect x="166.2" y="192.5" width="2.1" height="2.1" fill="#f2f2ff"/><rect x="168.2" y="192.5" width="2.1" height="2.1" fill="#efefff"/><rect x="170.2" y="192.5" width="2.1" height="2.1" fill="#ececff"/><rect x="172.2" y="192.5" width="2.1" height="2.1" fill="#e8e8ff"/><rect x="174.2" y="192.5" width="2.1" height="2.1" fill="#e3e3ff"/><rect x="176.2" y="192.5" width="2.1" height="2.1" fill="#dadbff"/><rect x="178.2" y="192.5" width="2.1" height="2.1" fill="#ced2ff"/><rect x="180.2" y="192.5" width="2.1" height="2.1" fill="#c0c8ff"/><rect x="182.2" y="192.5" width="2.1" height="2.1" fill="#b2bdff"/><rect x="184.2" y="192.5" width="2.1" height="2.1" fill="#a4b3ff"/><rect x="186.2" y="192.5" width="2.1" height="2.1" fill="#95a8ff"/><rect x="188.2" y="192.5" width="2.1" height="2.1" fill="#889eff"/><rect x="190.2" y="192.5" width="2.1" height="2.1" fill="#7f97ff"/><rect x="192.2" y="192.5" width="2.1" height="2.1" fill="#7b94ff"/><rect x="194.2" y="192.5" width="2.1" height="2.1" fill="#7d95ff"/><rect x="104.2" y="194.5" width="2.1" height="2.1" fill="#ff80a8"/><rect x="106.2" y="194.5" width="2.1" height="2.1" fill="#ff82a9"/><rect x="108.2" y="194.5" width="2.1" height="2.1" fill="#ff87ad"/><rect x="110.2" y="194.5" width="2.1" height="2.1" fill="#ff8fb3"/><rect x="112.2" y="194.5" width="2.1" height="2.1" fill="#ff99bb"/><rect x="114.2" y="194.5" width="2.1" height="2.1" fill="#ffa4c4"/><rect x="116.2" y="194.5" width="2.1" height="2.1" fill="#ffb1ce"/><rect x="118.2" y="194.5" width="2.1" height="2.1" fill="#ffbdd7"/><rect x="120.2" y="194.5" width="2.1" height="2.1" fill="#ffc9e0"/><rect x="122.2" y="194.5" width="2.1" height="2.1" fill="#ffd2e5"/><rect x="124.2" y="194.5" width="2.1" height="2.1" fill="#ffdaea"/><rect x="126.2" y="194.5" width="2.1" height="2.1" fill="#ffe1ee"/><rect x="128.2" y="194.5" width="2.1" height="2.1" fill="#ffe7f1"/><rect x="130.2" y="194.5" width="2.1" height="2.1" fill="#ffedf4"/><rect x="132.2" y="194.5" width="2.1" height="2.1" fill="#fff0f6"/><rect x="134.2" y="194.5" width="2.1" height="2.1" fill="#fff2f7"/><rect x="136.2" y="194.5" width="2.1" height="2.1" fill="#fff4f8"/><rect x="138.2" y="194.5" width="2.1" height="2.1" fill="#fff5f9"/><rect x="140.2" y="194.5" width="2.1" height="2.1" fill="#fff6fa"/><rect x="142.2" y="194.5" width="2.1" height="2.1" fill="#fff8fb"/><rect x="144.2" y="194.5" width="2.1" height="2.1" fill="#fff9fb"/><rect x="146.2" y="194.5" width="2.1" height="2.1" fill="#fffafc"/><rect x="148.2" y="194.5" width="2.1" height="2.1" fill="#fffbfd"/><rect x="150.2" y="194.5" width="2.1" height="2.1" fill="#fffdfe"/><rect x="152.2" y="194.5" width="2.1" height="2.1" fill="#fffefe"/><rect x="156.2" y="194.5" width="2.1" height="2.1" fill="#fdfdff"/><rect x="158.2" y="194.5" width="2.1" height="2.1" fill="#fcfcff"/><rect x="160.2" y="194.5" width="2.1" height="2.1" fill="#fafaff"/><rect x="162.2" y="194.5" width="2.1" height="2.1" fill="#f8f8ff"/><rect x="164.2" y="194.5" width="2.1" height="2.1" fill="#f5f5ff"/><rect x="166.2" y="194.5" width="2.1" height="2.1" fill="#f3f3ff"/><rect x="168.2" y="194.5" width="2.1" height="2.1" fill="#f0f0ff"/><rect x="170.2" y="194.5" width="2.1" height="2.1" fill="#ededff"/><rect x="172.2" y="194.5" width="2.1" height="2.1" fill="#e9e9ff"/><rect x="174.2" y="194.5" width="2.1" height="2.1" fill="#e4e4ff"/><rect x="176.2" y="194.5" width="2.1" height="2.1" fill="#dddeff"/><rect x="178.2" y="194.5" width="2.1" height="2.1" fill="#d2d5ff"/><rect x="180.2" y="194.5" width="2.1" height="2.1" fill="#c5ccff"/><rect x="182.2" y="194.5" width="2.1" height="2.1" fill="#b8c2ff"/><rect x="184.2" y="194.5" width="2.1" height="2.1" fill="#abb8ff"/><rect x="186.2" y="194.5" width="2.1" height="2.1" fill="#9fafff"/><rect x="188.2" y="194.5" width="2.1" height="2.1" fill="#93a6ff"/><rect x="190.2" y="194.5" width="2.1" height="2.1" fill="#8ba0ff"/><rect x="192.2" y="194.5" width="2.1" height="2.1" fill="#879dff"/><rect x="194.2" y="194.5" width="2.1" height="2.1" fill="#899fff"/><rect x="104.2" y="196.5" width="2.1" height="2.1" fill="#ff8bb1"/><rect x="106.2" y="196.5" width="2.1" height="2.1" fill="#ff8cb2"/><rect x="108.2" y="196.5" width="2.1" height="2.1" fill="#ff91b5"/><rect x="110.2" y="196.5" width="2.1" height="2.1" fill="#ff98bb"/><rect x="112.2" y="196.5" width="2.1" height="2.1" fill="#ffa1c2"/><rect x="114.2" y="196.5" width="2.1" height="2.1" fill="#ffacca"/><rect x="116.2" y="196.5" width="2.1" height="2.1" fill="#ffb7d3"/><rect x="118.2" y="196.5" width="2.1" height="2.1" fill="#ffc2dc"/><rect x="120.2" y="196.5" width="2.1" height="2.1" fill="#ffcce2"/><rect x="122.2" y="196.5" width="2.1" height="2.1" fill="#ffd5e7"/><rect x="124.2" y="196.5" width="2.1" height="2.1" fill="#ffdceb"/><rect x="126.2" y="196.5" width="2.1" height="2.1" fill="#ffe3ef"/><rect x="128.2" y="196.5" width="2.1" height="2.1" fill="#ffe9f2"/><rect x="130.2" y="196.5" width="2.1" height="2.1" fill="#ffeef5"/><rect x="132.2" y="196.5" width="2.1" height="2.1" fill="#fff1f7"/><rect x="134.2" y="196.5" width="2.1" height="2.1" fill="#fff2f7"/><rect x="136.2" y="196.5" width="2.1" height="2.1" fill="#fff4f8"/><rect x="138.2" y="196.5" width="2.1" height="2.1" fill="#fff5f9"/><rect x="140.2" y="196.5" width="2.1" height="2.1" fill="#fff7fa"/><rect x="142.2" y="196.5" width="2.1" height="2.1" fill="#fff8fb"/><rect x="144.2" y="196.5" width="2.1" height="2.1" fill="#fff9fb"/><rect x="146.2" y="196.5" width="2.1" height="2.1" fill="#fffafc"/><rect x="148.2" y="196.5" width="2.1" height="2.1" fill="#fffbfd"/><rect x="150.2" y="196.5" width="2.1" height="2.1" fill="#fffdfe"/><rect x="152.2" y="196.5" width="2.1" height="2.1" fill="#fffefe"/><rect x="156.2" y="196.5" width="2.1" height="2.1" fill="#fdfdff"/><rect x="158.2" y="196.5" width="2.1" height="2.1" fill="#fcfcff"/><rect x="160.2" y="196.5" width="2.1" height="2.1" fill="#fafaff"/><rect x="162.2" y="196.5" width="2.1" height="2.1" fill="#f8f8ff"/><rect x="164.2" y="196.5" width="2.1" height="2.1" fill="#f6f6ff"/><rect x="166.2" y="196.5" width="2.1" height="2.1" fill="#f3f3ff"/><rect x="168.2" y="196.5" width="2.1" height="2.1" fill="#f0f0ff"/><rect x="170.2" y="196.5" width="2.1" height="2.1" fill="#ededff"/><rect x="172.2" y="196.5" width="2.1" height="2.1" fill="#e9e9ff"/><rect x="174.2" y="196.5" width="2.1" height="2.1" fill="#e5e5ff"/><rect x="176.2" y="196.5" width="2.1" height="2.1" fill="#e0e0ff"/><rect x="178.2" y="196.5" width="2.1" height="2.1" fill="#d5d8ff"/><rect x="180.2" y="196.5" width="2.1" height="2.1" fill="#c9cfff"/><rect x="182.2" y="196.5" width="2.1" height="2.1" fill="#bdc6ff"/><rect x="184.2" y="196.5" width="2.1" height="2.1" fill="#b1bdff"/><rect x="186.2" y="196.5" width="2.1" height="2.1" fill="#a6b5ff"/><rect x="188.2" y="196.5" width="2.1" height="2.1" fill="#9cadff"/><rect x="190.2" y="196.5" width="2.1" height="2.1" fill="#95a8ff"/><rect x="192.2" y="196.5" width="2.1" height="2.1" fill="#92a5ff"/><rect x="194.2" y="196.5" width="2.1" height="2.1" fill="#93a6ff"/><rect x="104.2" y="198.5" width="2.1" height="2.1" fill="#ff94b8"/><rect x="106.2" y="198.5" width="2.1" height="2.1" fill="#ff95b8"/><rect x="108.2" y="198.5" width="2.1" height="2.1" fill="#ff99bb"/><rect x="110.2" y="198.5" width="2.1" height="2.1" fill="#ffa0c1"/><rect x="112.2" y="198.5" width="2.1" height="2.1" fill="#ffa8c7"/><rect x="114.2" y="198.5" width="2.1" height="2.1" fill="#ffb2cf"/><rect x="116.2" y="198.5" width="2.1" height="2.1" fill="#ffbcd7"/><rect x="118.2" y="198.5" width="2.1" height="2.1" fill="#ffc7df"/><rect x="120.2" y="198.5" width="2.1" height="2.1" fill="#ffd0e4"/><rect x="122.2" y="198.5" width="2.1" height="2.1" fill="#ffd8e9"/><rect x="124.2" y="198.5" width="2.1" height="2.1" fill="#ffdfec"/><rect x="126.2" y="198.5" width="2.1" height="2.1" fill="#ffe5f0"/><rect x="128.2" y="198.5" width="2.1" height="2.1" fill="#ffeaf3"/><rect x="130.2" y="198.5" width="2.1" height="2.1" fill="#ffeff5"/><rect x="132.2" y="198.5" width="2.1" height="2.1" fill="#fff1f7"/><rect x="134.2" y="198.5" width="2.1" height="2.1" fill="#fff3f8"/><rect x="136.2" y="198.5" width="2.1" height="2.1" fill="#fff4f8"/><rect x="138.2" y="198.5" width="2.1" height="2.1" fill="#fff5f9"/><rect x="140.2" y="198.5" width="2.1" height="2.1" fill="#fff7fa"/><rect x="142.2" y="198.5" width="2.1" height="2.1" fill="#fff8fb"/><rect x="144.2" y="198.5" width="2.1" height="2.1" fill="#fff9fb"/><rect x="146.2" y="198.5" width="2.1" height="2.1" fill="#fffafc"/><rect x="148.2" y="198.5" width="2.1" height="2.1" fill="#fffbfd"/><rect x="150.2" y="198.5" width="2.1" height="2.1" fill="#fffdfe"/><rect x="152.2" y="198.5" width="2.1" height="2.1" fill="#fffefe"/><rect x="156.2" y="198.5" width="2.1" height="2.1" fill="#fdfdff"/><rect x="158.2" y="198.5" width="2.1" height="2.1" fill="#fcfcff"/><rect x="160.2" y="198.5" width="2.1" height="2.1" fill="#fafaff"/><rect x="162.2" y="198.5" width="2.1" height="2.1" fill="#f8f8ff"/><rect x="164.2" y="198.5" width="2.1" height="2.1" fill="#f6f6ff"/><rect x="166.2" y="198.5" width="2.1" height="2.1" fill="#f3f3ff"/><rect x="168.2" y="198.5" width="2.1" height="2.1" fill="#f1f1ff"/><rect x="170.2" y="198.5" width="2.1" height="2.1" fill="#eeeeff"/><rect x="172.2" y="198.5" width="2.1" height="2.1" fill="#eaeaff"/><rect x="174.2" y="198.5" width="2.1" height="2.1" fill="#e6e6ff"/><rect x="176.2" y="198.5" width="2.1" height="2.1" fill="#e1e1ff"/><rect x="178.2" y="198.5" width="2.1" height="2.1" fill="#d8daff"/><rect x="180.2" y="198.5" width="2.1" height="2.1" fill="#cdd2ff"/><rect x="182.2" y="198.5" width="2.1" height="2.1" fill="#c2c9ff"/><rect x="184.2" y="198.5" width="2.1" height="2.1" fill="#b6c1ff"/><rect x="186.2" y="198.5" width="2.1" height="2.1" fill="#acb9ff"/><rect x="188.2" y="198.5" width="2.1" height="2.1" fill="#a4b3ff"/><rect x="190.2" y="198.5" width="2.1" height="2.1" fill="#9daeff"/><rect x="192.2" y="198.5" width="2.1" height="2.1" fill="#9aacff"/><rect x="194.2" y="198.5" width="2.1" height="2.1" fill="#9cadff"/><rect x="104.2" y="200.5" width="2.1" height="2.1" fill="#ff9bbd"/><rect x="106.2" y="200.5" width="2.1" height="2.1" fill="#ff9cbe"/><rect x="108.2" y="200.5" width="2.1" height="2.1" fill="#ffa0c1"/><rect x="110.2" y="200.5" width="2.1" height="2.1" fill="#ffa6c6"/><rect x="112.2" y="200.5" width="2.1" height="2.1" fill="#ffaecc"/><rect x="114.2" y="200.5" width="2.1" height="2.1" fill="#ffb7d3"/><rect x="116.2" y="200.5" width="2.1" height="2.1" fill="#ffc1da"/><rect x="118.2" y="200.5" width="2.1" height="2.1" fill="#ffcae1"/><rect x="120.2" y="200.5" width="2.1" height="2.1" fill="#ffd2e6"/><rect x="122.2" y="200.5" width="2.1" height="2.1" fill="#ffdaea"/><rect x="124.2" y="200.5" width="2.1" height="2.1" fill="#ffe0ed"/><rect x="126.2" y="200.5" width="2.1" height="2.1" fill="#ffe6f1"/><rect x="128.2" y="200.5" width="2.1" height="2.1" fill="#ffebf3"/><rect x="130.2" y="200.5" width="2.1" height="2.1" fill="#fff0f6"/><rect x="132.2" y="200.5" width="2.1" height="2.1" fill="#fff2f7"/><rect x="134.2" y="200.5" width="2.1" height="2.1" fill="#fff3f8"/><rect x="136.2" y="200.5" width="2.1" height="2.1" fill="#fff4f9"/><rect x="138.2" y="200.5" width="2.1" height="2.1" fill="#fff6f9"/><rect x="140.2" y="200.5" width="2.1" height="2.1" fill="#fff7fa"/><rect x="142.2" y="200.5" width="2.1" height="2.1" fill="#fff8fb"/><rect x="144.2" y="200.5" width="2.1" height="2.1" fill="#fff9fc"/><rect x="146.2" y="200.5" width="2.1" height="2.1" fill="#fffafc"/><rect x="148.2" y="200.5" width="2.1" height="2.1" fill="#fffbfd"/><rect x="150.2" y="200.5" width="2.1" height="2.1" fill="#fffdfe"/><rect x="152.2" y="200.5" width="2.1" height="2.1" fill="#fffefe"/><rect x="156.2" y="200.5" width="2.1" height="2.1" fill="#fdfdff"/><rect x="158.2" y="200.5" width="2.1" height="2.1" fill="#fcfcff"/><rect x="160.2" y="200.5" width="2.1" height="2.1" fill="#fafaff"/><rect x="162.2" y="200.5" width="2.1" height="2.1" fill="#f8f8ff"/><rect x="164.2" y="200.5" width="2.1" height="2.1" fill="#f6f6ff"/><rect x="166.2" y="200.5" width="2.1" height="2.1" fill="#f4f4ff"/><rect x="168.2" y="200.5" width="2.1" height="2.1" fill="#f1f1ff"/><rect x="170.2" y="200.5" width="2.1" height="2.1" fill="#eeeeff"/><rect x="172.2" y="200.5" width="2.1" height="2.1" fill="#ebebff"/><rect x="174.2" y="200.5" width="2.1" height="2.1" fill="#e7e7ff"/><rect x="176.2" y="200.5" width="2.1" height="2.1" fill="#e2e2ff"/><rect x="178.2" y="200.5" width="2.1" height="2.1" fill="#dbdcff"/><rect x="180.2" y="200.5" width="2.1" height="2.1" fill="#d0d4ff"/><rect x="182.2" y="200.5" width="2.1" height="2.1" fill="#c5ccff"/><rect x="184.2" y="200.5" width="2.1" height="2.1" fill="#bbc4ff"/><rect x="186.2" y="200.5" width="2.1" height="2.1" fill="#b1bdff"/><rect x="188.2" y="200.5" width="2.1" height="2.1" fill="#a9b7ff"/><rect x="190.2" y="200.5" width="2.1" height="2.1" fill="#a4b3ff"/><rect x="192.2" y="200.5" width="2.1" height="2.1" fill="#a1b1ff"/><rect x="194.2" y="200.5" width="2.1" height="2.1" fill="#a3b2ff"/><rect x="104.2" y="202.5" width="2.1" height="2.1" fill="#ffa1c2"/><rect x="106.2" y="202.5" width="2.1" height="2.1" fill="#ffa2c3"/><rect x="108.2" y="202.5" width="2.1" height="2.1" fill="#ffa6c5"/><rect x="110.2" y="202.5" width="2.1" height="2.1" fill="#ffabca"/><rect x="112.2" y="202.5" width="2.1" height="2.1" fill="#ffb3cf"/><rect x="114.2" y="202.5" width="2.1" height="2.1" fill="#ffbbd6"/><rect x="116.2" y="202.5" width="2.1" height="2.1" fill="#ffc5dd"/><rect x="118.2" y="202.5" width="2.1" height="2.1" fill="#ffcde3"/><rect x="120.2" y="202.5" width="2.1" height="2.1" fill="#ffd5e7"/><rect x="122.2" y="202.5" width="2.1" height="2.1" fill="#ffdceb"/><rect x="124.2" y="202.5" width="2.1" height="2.1" fill="#ffe2ee"/><rect x="126.2" y="202.5" width="2.1" height="2.1" fill="#ffe7f1"/><rect x="128.2" y="202.5" width="2.1" height="2.1" fill="#ffecf4"/><rect x="130.2" y="202.5" width="2.1" height="2.1" fill="#fff0f6"/><rect x="132.2" y="202.5" width="2.1" height="2.1" fill="#fff2f7"/><rect x="134.2" y="202.5" width="2.1" height="2.1" fill="#fff3f8"/><rect x="136.2" y="202.5" width="2.1" height="2.1" fill="#fff5f9"/><rect x="138.2" y="202.5" width="2.1" height="2.1" fill="#fff6f9"/><rect x="140.2" y="202.5" width="2.1" height="2.1" fill="#fff7fa"/><rect x="142.2" y="202.5" width="2.1" height="2.1" fill="#fff8fb"/><rect x="144.2" y="202.5" width="2.1" height="2.1" fill="#fff9fc"/><rect x="146.2" y="202.5" width="2.1" height="2.1" fill="#fffafc"/><rect x="148.2" y="202.5" width="2.1" height="2.1" fill="#fffcfd"/><rect x="150.2" y="202.5" width="2.1" height="2.1" fill="#fffdfe"/><rect x="152.2" y="202.5" width="2.1" height="2.1" fill="#fffefe"/><rect x="156.2" y="202.5" width="2.1" height="2.1" fill="#fdfdff"/><rect x="158.2" y="202.5" width="2.1" height="2.1" fill="#fcfcff"/><rect x="160.2" y="202.5" width="2.1" height="2.1" fill="#fafaff"/><rect x="162.2" y="202.5" width="2.1" height="2.1" fill="#f8f8ff"/><rect x="164.2" y="202.5" width="2.1" height="2.1" fill="#f6f6ff"/><rect x="166.2" y="202.5" width="2.1" height="2.1" fill="#f4f4ff"/><rect x="168.2" y="202.5" width="2.1" height="2.1" fill="#f1f1ff"/><rect x="170.2" y="202.5" width="2.1" height="2.1" fill="#efefff"/><rect x="172.2" y="202.5" width="2.1" height="2.1" fill="#ebebff"/><rect x="174.2" y="202.5" width="2.1" height="2.1" fill="#e7e7ff"/><rect x="176.2" y="202.5" width="2.1" height="2.1" fill="#e3e3ff"/><rect x="178.2" y="202.5" width="2.1" height="2.1" fill="#ddddff"/><rect x="180.2" y="202.5" width="2.1" height="2.1" fill="#d3d6ff"/><rect x="182.2" y="202.5" width="2.1" height="2.1" fill="#c8ceff"/><rect x="184.2" y="202.5" width="2.1" height="2.1" fill="#bec7ff"/><rect x="186.2" y="202.5" width="2.1" height="2.1" fill="#b5c0ff"/><rect x="188.2" y="202.5" width="2.1" height="2.1" fill="#adbaff"/><rect x="190.2" y="202.5" width="2.1" height="2.1" fill="#a8b6ff"/><rect x="192.2" y="202.5" width="2.1" height="2.1" fill="#a6b5ff"/><rect x="194.2" y="202.5" width="2.1" height="2.1" fill="#a8b6ff"/></g>
<line x1="104.4" y1="136.8" x2="193.2" y2="136.8" stroke="#55994f" stroke-width="1"/>
<line x1="104.4" y1="189.4" x2="193.2" y2="189.4" stroke="#55994f" stroke-width="1"/>
<rect x="94.2" y="119" width="10" height="83.7" fill="#82a616"/>
<rect x="194.9" y="119" width="10.2" height="83.7" fill="#82a616"/>
<rect x="93.7" y="118.5" width="111.9" height="84.7" fill="none" stroke="#666" stroke-width="1.1"/>
<polygon points="149.30,154.50 151.18,159.01 156.05,159.41 152.34,162.59 153.47,167.34 149.30,164.80 145.13,167.34 146.26,162.59 142.55,159.41 147.42,159.01" fill="#fff" stroke="#1a1a1a" stroke-width="1.1"/>
<rect x="213.2" y="118.3" width="14.8" height="84.2" fill="url(#cbar)"/>
<path d="M228 118.3H213.2V202.5H228" fill="none" stroke="#666" stroke-width="1.1"/><path d="M228 118.3V202.5" stroke="#999" stroke-width="0.6"/>
<g transform="translate(242.4 199.2) rotate(-90)"><text x="0" y="0" font-size="11.4" fill="#222">Current (arb. u.)</text></g>
<path d="M106 203.5V222M193.6 203.5V222" stroke="#777" stroke-width="1.5"/>
<text x="111.6" y="217.4" font-size="11.9" fill="#222">Length = 5 μm</text>
<circle cx="101.8" cy="233.1" r="5.5" fill="#fa7866" stroke="#dc2a12" stroke-width="1.4"/>
<circle cx="128.8" cy="231.4" r="5.5" fill="#fa7866" stroke="#dc2a12" stroke-width="1.4"/>
<circle cx="144.6" cy="235.2" r="5.5" fill="#fa7866" stroke="#dc2a12" stroke-width="1.4"/>
<circle cx="156.8" cy="236.4" r="5.5" fill="#fa7866" stroke="#dc2a12" stroke-width="1.4"/>
<circle cx="168.1" cy="235.6" r="5.5" fill="#fa7866" stroke="#dc2a12" stroke-width="1.4"/>
<circle cx="177.9" cy="238.1" r="5.5" fill="#fa7866" stroke="#dc2a12" stroke-width="1.4"/>
<circle cx="188.0" cy="238.9" r="5.5" fill="#fa7866" stroke="#dc2a12" stroke-width="1.4"/>
<circle cx="196.9" cy="239.4" r="5.5" fill="#fa7866" stroke="#dc2a12" stroke-width="1.4"/>
<circle cx="205.6" cy="244.1" r="5.5" fill="#fa7866" stroke="#dc2a12" stroke-width="1.4"/>
<circle cx="214.3" cy="246.4" r="5.5" fill="#fa7866" stroke="#dc2a12" stroke-width="1.4"/>
<circle cx="222.8" cy="248.2" r="5.5" fill="#fa7866" stroke="#dc2a12" stroke-width="1.4"/>
<circle cx="232.0" cy="247.5" r="5.5" fill="#fa7866" stroke="#dc2a12" stroke-width="1.4"/>
<circle cx="240.7" cy="249.3" r="5.5" fill="#fa7866" stroke="#dc2a12" stroke-width="1.4"/>
<circle cx="249.9" cy="253.2" r="5.5" fill="#fa7866" stroke="#dc2a12" stroke-width="1.4"/>
<circle cx="259.5" cy="253.9" r="5.5" fill="#fa7866" stroke="#dc2a12" stroke-width="1.4"/>
<circle cx="269.4" cy="256.2" r="5.5" fill="#fa7866" stroke="#dc2a12" stroke-width="1.4"/>
<circle cx="277.9" cy="260.8" r="5.5" fill="#fa7866" stroke="#dc2a12" stroke-width="1.4"/>
<circle cx="287.7" cy="256.2" r="5.5" fill="#fa7866" stroke="#dc2a12" stroke-width="1.4"/>
<circle cx="297.8" cy="264.0" r="5.5" fill="#fa7866" stroke="#dc2a12" stroke-width="1.4"/>
<circle cx="309.5" cy="258.5" r="5.5" fill="#fa7866" stroke="#dc2a12" stroke-width="1.4"/>
<circle cx="321.4" cy="260.1" r="5.5" fill="#fa7866" stroke="#dc2a12" stroke-width="1.4"/>
<circle cx="102.0" cy="238.9" r="5.5" fill="#a48ef8" stroke="#3438ff" stroke-width="1.4"/>
<circle cx="128.8" cy="235.2" r="5.5" fill="#a48ef8" stroke="#3438ff" stroke-width="1.4"/>
<circle cx="144.6" cy="241.4" r="5.5" fill="#a48ef8" stroke="#3438ff" stroke-width="1.4"/>
<circle cx="156.8" cy="242.3" r="5.5" fill="#a48ef8" stroke="#3438ff" stroke-width="1.4"/>
<circle cx="168.1" cy="238.9" r="5.5" fill="#a48ef8" stroke="#3438ff" stroke-width="1.4"/>
<circle cx="177.9" cy="242.0" r="5.5" fill="#a48ef8" stroke="#3438ff" stroke-width="1.4"/>
<circle cx="188.0" cy="244.1" r="5.5" fill="#a48ef8" stroke="#3438ff" stroke-width="1.4"/>
<circle cx="196.9" cy="246.4" r="5.5" fill="#a48ef8" stroke="#3438ff" stroke-width="1.4"/>
<circle cx="205.6" cy="249.8" r="5.5" fill="#a48ef8" stroke="#3438ff" stroke-width="1.4"/>
<circle cx="214.3" cy="255.5" r="5.5" fill="#a48ef8" stroke="#3438ff" stroke-width="1.4"/>
<circle cx="223.5" cy="262.4" r="5.5" fill="#a48ef8" stroke="#3438ff" stroke-width="1.4"/>
<circle cx="232.0" cy="232.6" r="5.5" fill="#a48ef8" stroke="#3438ff" stroke-width="1.4"/>
<circle cx="240.7" cy="226.4" r="5.5" fill="#a48ef8" stroke="#3438ff" stroke-width="1.4"/>
<circle cx="253.4" cy="195.8" r="5.5" fill="#a48ef8" stroke="#3438ff" stroke-width="1.4"/>
<circle cx="263.3" cy="187.2" r="5.5" fill="#a48ef8" stroke="#3438ff" stroke-width="1.4"/>
<circle cx="272.7" cy="180.3" r="5.5" fill="#a48ef8" stroke="#3438ff" stroke-width="1.4"/>
<circle cx="278.3" cy="155.7" r="5.5" fill="#a48ef8" stroke="#3438ff" stroke-width="1.4"/>
<circle cx="287.8" cy="149.8" r="5.5" fill="#a48ef8" stroke="#3438ff" stroke-width="1.4"/>
<circle cx="297.3" cy="105.8" r="5.5" fill="#a48ef8" stroke="#3438ff" stroke-width="1.4"/>
<circle cx="308.9" cy="102.6" r="5.5" fill="#a48ef8" stroke="#3438ff" stroke-width="1.4"/>
<circle cx="320.5" cy="70.7" r="5.5" fill="#a48ef8" stroke="#3438ff" stroke-width="1.4"/>
<rect x="69.5" y="22.2" width="256.4" height="258.1" fill="none" stroke="#000" stroke-width="2.3"/>
<rect x="528" y="22.4" width="52" height="266.3" fill="url(#band)"/>
<path d="M414.0 261.98h2.6M649.9 261.98h-2.6M414.0 246.35h2.6M649.9 246.35h-2.6M414.0 235.26h2.6M649.9 235.26h-2.6M414.0 226.65h2.6M649.9 226.65h-2.6M414.0 219.63h2.6M649.9 219.63h-2.6M414.0 213.68h2.6M649.9 213.68h-2.6M414.0 208.54h2.6M649.9 208.54h-2.6M414.0 204.00h2.6M649.9 204.00h-2.6M414.0 199.93h4.0M649.9 199.93h-4.0M414.0 173.21h2.6M649.9 173.21h-2.6M414.0 157.58h2.6M649.9 157.58h-2.6M414.0 146.49h2.6M649.9 146.49h-2.6M414.0 137.89h2.6M649.9 137.89h-2.6M414.0 130.86h2.6M649.9 130.86h-2.6M414.0 124.92h2.6M649.9 124.92h-2.6M414.0 119.77h2.6M649.9 119.77h-2.6M414.0 115.23h2.6M649.9 115.23h-2.6M414.0 111.17h4.0M649.9 111.17h-4.0M414.0 84.45h2.6M649.9 84.45h-2.6M414.0 68.81h2.6M649.9 68.81h-2.6M414.0 57.72h2.6M649.9 57.72h-2.6M414.0 49.12h2.6M649.9 49.12h-2.6M414.0 42.09h2.6M649.9 42.09h-2.6M414.0 36.15h2.6M649.9 36.15h-2.6M414.0 31.00h2.6M649.9 31.00h-2.6M414.0 26.46h2.6M649.9 26.46h-2.6M434.46 288.7v-2.6M434.46 22.4v2.6M453.28 288.7v-2.6M453.28 22.4v2.6M470.70 288.7v-2.6M470.70 22.4v2.6M486.92 288.7v-4.0M486.92 22.4v4.0M502.10 288.7v-2.6M502.10 22.4v2.6M516.35 288.7v-2.6M516.35 22.4v2.6M529.79 288.7v-2.6M529.79 22.4v2.6M542.51 288.7v-2.6M542.51 22.4v2.6M554.57 288.7v-4.0M554.57 22.4v4.0M566.04 288.7v-2.6M566.04 22.4v2.6M576.98 288.7v-2.6M576.98 22.4v2.6M587.43 288.7v-2.6M587.43 22.4v2.6M597.43 288.7v-2.6M597.43 22.4v2.6M607.03 288.7v-4.0M607.03 22.4v4.0M616.25 288.7v-2.6M616.25 22.4v2.6M625.13 288.7v-2.6M625.13 22.4v2.6M633.68 288.7v-2.6M633.68 22.4v2.6M641.93 288.7v-2.6M641.93 22.4v2.6" stroke="#000" stroke-width="1.2" fill="none"/>
<text x="399.2" y="31.40" font-size="15.4" text-anchor="end" fill="#111">10</text>
<text x="401.8" y="23.40" font-size="12.5" fill="#111">2</text>
<text x="399.2" y="120.17" font-size="15.4" text-anchor="end" fill="#111">10</text>
<text x="401.8" y="112.17" font-size="12.5" fill="#111">1</text>
<text x="399.2" y="208.93" font-size="15.4" text-anchor="end" fill="#111">10</text>
<text x="401.8" y="200.93" font-size="12.5" fill="#111">0</text>
<text x="392.9" y="297.70" font-size="15.4" text-anchor="end" fill="#111">10</text>
<text x="397.0" y="289.70" font-size="12.5" fill="#111">-1</text>
<text x="489.40" y="308.3" font-size="14.8" text-anchor="middle" fill="#111">1.5</text>
<text x="553.90" y="308.3" font-size="14.8" text-anchor="middle" fill="#111">2</text>
<text x="605.40" y="308.3" font-size="14.8" text-anchor="middle" fill="#111">2.5</text>
<text x="646.00" y="308.3" font-size="14.8" text-anchor="middle" fill="#111">3</text>
<text transform="translate(345.4 22.2) scale(1.02 1)" font-size="21.5" fill="#111">(b)</text>
<text transform="translate(463.2 332.3) scale(0.78 1)" font-size="26" fill="#111">E</text>
<text x="475.7" y="341.7" font-size="14.3" fill="#111">0</text>
<text x="491.1" y="332.3" font-size="26.5" fill="#111">(V/nm)</text>
<g transform="translate(370.7 197.0) rotate(-90)"><text transform="translate(-0.3 0) scale(0.8 1)" font-size="25.5" fill="#111">J</text><text x="9.0" y="9.8" font-size="14" fill="#111">s</text><text x="22.2" y="0" font-size="26.2" fill="#111">(pA)</text></g>
<circle cx="439.8" cy="43.2" r="5.9" fill="#a48ef8" stroke="#3438ff" stroke-width="1.5"/>
<circle cx="439.8" cy="72.3" r="5.9" fill="#fa7866" stroke="#dc2a12" stroke-width="1.5"/>
<text x="453.8" y="49.1" font-size="16.8" fill="#111">Linear polarization</text>
<text x="455" y="76.2" font-size="16.8" fill="#111">Circular polarization</text>
<path d="M432 98.3h5M439 98.3h4.5M445 98.3h4" stroke="#111" stroke-width="1.8"/>
<text x="455.6" y="102.2" font-size="17.0" fill="#111">fit:</text>
<text x="477.3" y="102.2" font-size="17.0" fill="#111">J</text>
<text x="484.4" y="107.3" font-size="10.0" fill="#111">s</text>
<text x="493.2" y="102.2" font-size="17.0" fill="#111">~</text>
<text x="515.2" y="107.3" font-size="10.5" fill="#111">0</text>
<text x="521.0" y="96.0" font-size="9.5" fill="#111">slope</text>
<text transform="translate(506.4 102.2) scale(0.82 1)" font-size="17" fill="#111">E</text>
<g transform="translate(424 190) rotate(-37.2)"><text x="0" y="0" font-size="16.6" fill="#111">slope: 4.8±0.3</text></g>
<circle cx="426.2" cy="280.7" r="6.1" fill="#fa7866" stroke="#dc2a12" stroke-width="1.5"/>
<circle cx="448.8" cy="213.7" r="6.1" fill="#fa7866" stroke="#dc2a12" stroke-width="1.5"/>
<circle cx="468.5" cy="197.7" r="6.1" fill="#fa7866" stroke="#dc2a12" stroke-width="1.5"/>
<circle cx="485.8" cy="196.0" r="6.1" fill="#fa7866" stroke="#dc2a12" stroke-width="1.5"/>
<circle cx="502.0" cy="180.1" r="6.1" fill="#fa7866" stroke="#dc2a12" stroke-width="1.5"/>
<circle cx="516.5" cy="166.9" r="6.1" fill="#fa7866" stroke="#dc2a12" stroke-width="1.5"/>
<circle cx="529.7" cy="164.9" r="6.1" fill="#fa7866" stroke="#dc2a12" stroke-width="1.5"/>
<circle cx="543.7" cy="168.4" r="6.1" fill="#fa7866" stroke="#dc2a12" stroke-width="1.5"/>
<circle cx="555.7" cy="158.8" r="6.1" fill="#fa7866" stroke="#dc2a12" stroke-width="1.5"/>
<circle cx="568.3" cy="149.2" r="6.1" fill="#fa7866" stroke="#dc2a12" stroke-width="1.5"/>
<circle cx="579.3" cy="147.1" r="6.1" fill="#fa7866" stroke="#dc2a12" stroke-width="1.5"/>
<circle cx="590.7" cy="142.5" r="6.1" fill="#fa7866" stroke="#dc2a12" stroke-width="1.5"/>
<circle cx="601.6" cy="135.0" r="6.1" fill="#fa7866" stroke="#dc2a12" stroke-width="1.5"/>
<circle cx="612.3" cy="143.7" r="6.1" fill="#fa7866" stroke="#dc2a12" stroke-width="1.5"/>
<circle cx="622.8" cy="129.6" r="6.1" fill="#fa7866" stroke="#dc2a12" stroke-width="1.5"/>
<circle cx="634.0" cy="136.8" r="6.1" fill="#fa7866" stroke="#dc2a12" stroke-width="1.5"/>
<circle cx="645.6" cy="136.8" r="6.1" fill="#fa7866" stroke="#dc2a12" stroke-width="1.5"/>
<circle cx="425.7" cy="229.3" r="6.1" fill="#a48ef8" stroke="#3438ff" stroke-width="1.5"/>
<circle cx="447.8" cy="193.8" r="6.1" fill="#a48ef8" stroke="#3438ff" stroke-width="1.5"/>
<circle cx="468.1" cy="184.7" r="6.1" fill="#a48ef8" stroke="#3438ff" stroke-width="1.5"/>
<circle cx="484.7" cy="170.1" r="6.1" fill="#a48ef8" stroke="#3438ff" stroke-width="1.5"/>
<circle cx="501.2" cy="156.6" r="6.1" fill="#a48ef8" stroke="#3438ff" stroke-width="1.5"/>
<circle cx="515.5" cy="145.3" r="6.1" fill="#a48ef8" stroke="#3438ff" stroke-width="1.5"/>
<circle cx="529.4" cy="133.0" r="6.1" fill="#a48ef8" stroke="#3438ff" stroke-width="1.5"/>
<circle cx="542.7" cy="196.6" r="6.1" fill="#a48ef8" stroke="#3438ff" stroke-width="1.5"/>
<circle cx="554.6" cy="163.8" r="6.1" fill="#a48ef8" stroke="#3438ff" stroke-width="1.5"/>
<circle cx="567.3" cy="107.4" r="6.1" fill="#a48ef8" stroke="#3438ff" stroke-width="1.5"/>
<circle cx="579.4" cy="100.8" r="6.1" fill="#a48ef8" stroke="#3438ff" stroke-width="1.5"/>
<circle cx="590.4" cy="95.5" r="6.1" fill="#a48ef8" stroke="#3438ff" stroke-width="1.5"/>
<circle cx="601.6" cy="85.9" r="6.1" fill="#a48ef8" stroke="#3438ff" stroke-width="1.5"/>
<circle cx="611.2" cy="83.6" r="6.1" fill="#a48ef8" stroke="#3438ff" stroke-width="1.5"/>
<circle cx="622.1" cy="68.1" r="6.1" fill="#a48ef8" stroke="#3438ff" stroke-width="1.5"/>
<circle cx="634.0" cy="67.5" r="6.1" fill="#a48ef8" stroke="#3438ff" stroke-width="1.5"/>
<circle cx="645.6" cy="59.0" r="6.1" fill="#a48ef8" stroke="#3438ff" stroke-width="1.5"/>
<line x1="414.0" y1="222.2" x2="649.9" y2="41.8" stroke="#000" stroke-width="1.9" stroke-dasharray="4.2 3" clip-path="url(#clipB)"/>
<rect x="414.0" y="22.4" width="235.9" height="266.3" fill="none" stroke="#000" stroke-width="2.3"/>
<text x="537.2" y="250.5" font-size="20.5" text-anchor="end" fill="#111">perturbative</text>
<text x="537.0" y="275" font-size="20.2" text-anchor="end" fill="#111">regime</text>
<text x="578.3" y="227.2" font-size="20.2" fill="#111">field-</text>
<text x="578.3" y="252.0" font-size="20.2" fill="#111">driven</text>
<text x="578.3" y="275.2" font-size="20.2" fill="#111">regime</text>
<path d="M530.5 227.5L544 220.5L541 227.5L544 234.5Z" fill="#1f2a30"/><path d="M541 227.5H552" stroke="#1f2a30" stroke-width="2"/>
<path d="M577 239.5L563.5 232.5L566.5 239.5L563.5 247.5Z" fill="#1f2a30"/><path d="M556 239.5H566" stroke="#1f2a30" stroke-width="2"/>
</svg></body></html>
